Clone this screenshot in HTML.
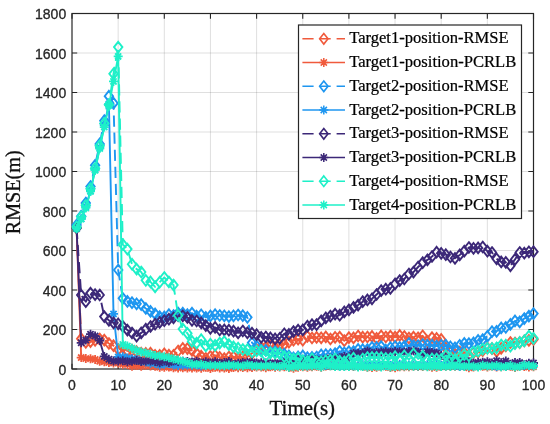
<!DOCTYPE html>
<html><head><meta charset="utf-8"><style>html,body{margin:0;padding:0;background:#fff;}svg{display:block;}</style></head>
<body><svg width="550" height="424" viewBox="0 0 550 424">
<rect width="550" height="424" fill="#fff"/>
<path d="M118.15 13.5V369.0M164.30 13.5V369.0M210.45 13.5V369.0M256.60 13.5V369.0M302.75 13.5V369.0M348.90 13.5V369.0M395.05 13.5V369.0M441.20 13.5V369.0M487.35 13.5V369.0" stroke="#262626" stroke-opacity="0.15" stroke-width="1" fill="none"/>
<path d="M72.0 329.50H533.5M72.0 290.00H533.5M72.0 250.50H533.5M72.0 211.00H533.5M72.0 171.50H533.5M72.0 132.00H533.5M72.0 92.50H533.5M72.0 53.00H533.5" stroke="#262626" stroke-opacity="0.15" stroke-width="1" fill="none"/>
<path d="M72.00 369.0v-5.2M72.00 13.5v5.2M118.15 369.0v-5.2M118.15 13.5v5.2M164.30 369.0v-5.2M164.30 13.5v5.2M210.45 369.0v-5.2M210.45 13.5v5.2M256.60 369.0v-5.2M256.60 13.5v5.2M302.75 369.0v-5.2M302.75 13.5v5.2M348.90 369.0v-5.2M348.90 13.5v5.2M395.05 369.0v-5.2M395.05 13.5v5.2M441.20 369.0v-5.2M441.20 13.5v5.2M487.35 369.0v-5.2M487.35 13.5v5.2M533.50 369.0v-5.2M533.50 13.5v5.2M72.0 369.00h5.2M533.5 369.00h-5.2M72.0 329.50h5.2M533.5 329.50h-5.2M72.0 290.00h5.2M533.5 290.00h-5.2M72.0 250.50h5.2M533.5 250.50h-5.2M72.0 211.00h5.2M533.5 211.00h-5.2M72.0 171.50h5.2M533.5 171.50h-5.2M72.0 132.00h5.2M533.5 132.00h-5.2M72.0 92.50h5.2M533.5 92.50h-5.2M72.0 53.00h5.2M533.5 53.00h-5.2M72.0 13.50h5.2M533.5 13.50h-5.2" stroke="#262626" stroke-width="1.1" fill="none"/>
<rect x="72.0" y="13.5" width="461.5" height="355.5" fill="none" stroke="#262626" stroke-width="1.2"/>
<polyline points="76.6,227.4 81.2,338.7 85.8,342.3 90.5,341.6 95.1,340.3 99.7,339.0 104.3,340.1 108.9,343.5 113.5,345.7 118.2,349.5 122.8,347.3 127.4,350.9 132.0,350.2 136.6,351.7 141.2,353.2 145.8,353.4 150.5,353.1 155.1,355.3 159.7,355.3 164.3,353.8 168.9,355.2 173.5,355.4 178.1,351.0 182.8,348.4 187.4,348.6 192.0,350.4 196.6,353.4 201.2,356.1 205.8,358.3 210.4,356.3 215.1,355.3 219.7,357.3 224.3,358.6 228.9,357.0 233.5,356.8 238.1,358.3 242.8,356.8 247.4,356.7 252.0,353.3 256.6,349.6 261.2,347.5 265.8,347.2 270.4,345.3 275.1,347.5 279.7,344.8 284.3,344.3 288.9,342.2 293.5,340.2 298.1,339.1 302.8,340.2 307.4,336.5 312.0,338.0 316.6,337.4 321.2,337.8 325.8,336.9 330.4,339.0 335.1,337.3 339.7,337.1 344.3,340.7 348.9,337.6 353.5,337.9 358.1,336.0 362.7,337.2 367.4,337.0 372.0,336.4 376.6,338.3 381.2,335.9 385.8,337.0 390.4,336.1 395.1,337.1 399.7,335.4 404.3,336.5 408.9,338.0 413.5,337.1 418.1,337.8 422.7,335.8 427.4,341.3 432.0,337.6 436.6,338.4 441.2,339.4 445.8,347.8 450.4,351.6 455.0,354.5 459.7,352.0 464.3,352.6 468.9,355.2 473.5,352.6 478.1,352.2 482.7,350.6 487.4,347.9 492.0,348.7 496.6,351.3 501.2,348.3 505.8,346.0 510.4,342.5 515.0,343.0 519.7,342.7 524.3,340.9 528.9,340.4 533.5,339.5" fill="none" stroke="#f05a3c" stroke-width="1.9" stroke-dasharray="11.2 5.9" stroke-linejoin="round"/>
<path d="M76.6 222.1L80.8 227.4L76.6 232.7L72.4 227.4ZM81.2 333.4L85.4 338.7L81.2 344.0L77.0 338.7ZM85.8 337.0L90.0 342.3L85.8 347.6L81.6 342.3ZM90.5 336.3L94.7 341.6L90.5 346.9L86.3 341.6ZM95.1 335.0L99.3 340.3L95.1 345.6L90.9 340.3ZM99.7 333.7L103.9 339.0L99.7 344.3L95.5 339.0ZM104.3 334.8L108.5 340.1L104.3 345.4L100.1 340.1ZM108.9 338.2L113.1 343.5L108.9 348.8L104.7 343.5ZM113.5 340.4L117.7 345.7L113.5 351.0L109.3 345.7ZM118.2 344.2L122.4 349.5L118.2 354.8L114.0 349.5ZM122.8 342.0L127.0 347.3L122.8 352.6L118.6 347.3ZM127.4 345.6L131.6 350.9L127.4 356.2L123.2 350.9ZM132.0 344.9L136.2 350.2L132.0 355.5L127.8 350.2ZM136.6 346.4L140.8 351.7L136.6 357.0L132.4 351.7ZM141.2 347.9L145.4 353.2L141.2 358.5L137.0 353.2ZM145.8 348.1L150.0 353.4L145.8 358.7L141.6 353.4ZM150.5 347.8L154.7 353.1L150.5 358.4L146.3 353.1ZM155.1 350.0L159.3 355.3L155.1 360.6L150.9 355.3ZM159.7 350.0L163.9 355.3L159.7 360.6L155.5 355.3ZM164.3 348.5L168.5 353.8L164.3 359.1L160.1 353.8ZM168.9 349.9L173.1 355.2L168.9 360.5L164.7 355.2ZM173.5 350.1L177.7 355.4L173.5 360.7L169.3 355.4ZM178.1 345.7L182.3 351.0L178.1 356.3L173.9 351.0ZM182.8 343.1L187.0 348.4L182.8 353.7L178.6 348.4ZM187.4 343.3L191.6 348.6L187.4 353.9L183.2 348.6ZM192.0 345.1L196.2 350.4L192.0 355.7L187.8 350.4ZM196.6 348.1L200.8 353.4L196.6 358.7L192.4 353.4ZM201.2 350.8L205.4 356.1L201.2 361.4L197.0 356.1ZM205.8 353.0L210.0 358.3L205.8 363.6L201.6 358.3ZM210.4 351.0L214.6 356.3L210.4 361.6L206.2 356.3ZM215.1 350.0L219.3 355.3L215.1 360.6L210.9 355.3ZM219.7 352.0L223.9 357.3L219.7 362.6L215.5 357.3ZM224.3 353.3L228.5 358.6L224.3 363.9L220.1 358.6ZM228.9 351.7L233.1 357.0L228.9 362.3L224.7 357.0ZM233.5 351.5L237.7 356.8L233.5 362.1L229.3 356.8ZM238.1 353.0L242.3 358.3L238.1 363.6L233.9 358.3ZM242.8 351.5L247.0 356.8L242.8 362.1L238.6 356.8ZM247.4 351.4L251.6 356.7L247.4 362.0L243.2 356.7ZM252.0 348.0L256.2 353.3L252.0 358.6L247.8 353.3ZM256.6 344.3L260.8 349.6L256.6 354.9L252.4 349.6ZM261.2 342.2L265.4 347.5L261.2 352.8L257.0 347.5ZM265.8 341.9L270.0 347.2L265.8 352.5L261.6 347.2ZM270.4 340.0L274.6 345.3L270.4 350.6L266.2 345.3ZM275.1 342.2L279.3 347.5L275.1 352.8L270.9 347.5ZM279.7 339.5L283.9 344.8L279.7 350.1L275.5 344.8ZM284.3 339.0L288.5 344.3L284.3 349.6L280.1 344.3ZM288.9 336.9L293.1 342.2L288.9 347.5L284.7 342.2ZM293.5 334.9L297.7 340.2L293.5 345.5L289.3 340.2ZM298.1 333.8L302.3 339.1L298.1 344.4L293.9 339.1ZM302.8 334.9L306.9 340.2L302.8 345.5L298.6 340.2ZM307.4 331.2L311.6 336.5L307.4 341.8L303.2 336.5ZM312.0 332.7L316.2 338.0L312.0 343.3L307.8 338.0ZM316.6 332.1L320.8 337.4L316.6 342.7L312.4 337.4ZM321.2 332.5L325.4 337.8L321.2 343.1L317.0 337.8ZM325.8 331.6L330.0 336.9L325.8 342.2L321.6 336.9ZM330.4 333.7L334.6 339.0L330.4 344.3L326.2 339.0ZM335.1 332.0L339.3 337.3L335.1 342.6L330.9 337.3ZM339.7 331.8L343.9 337.1L339.7 342.4L335.5 337.1ZM344.3 335.4L348.5 340.7L344.3 346.0L340.1 340.7ZM348.9 332.3L353.1 337.6L348.9 342.9L344.7 337.6ZM353.5 332.6L357.7 337.9L353.5 343.2L349.3 337.9ZM358.1 330.7L362.3 336.0L358.1 341.3L353.9 336.0ZM362.7 331.9L366.9 337.2L362.7 342.5L358.5 337.2ZM367.4 331.7L371.6 337.0L367.4 342.3L363.2 337.0ZM372.0 331.1L376.2 336.4L372.0 341.7L367.8 336.4ZM376.6 333.0L380.8 338.3L376.6 343.6L372.4 338.3ZM381.2 330.6L385.4 335.9L381.2 341.2L377.0 335.9ZM385.8 331.7L390.0 337.0L385.8 342.3L381.6 337.0ZM390.4 330.8L394.6 336.1L390.4 341.4L386.2 336.1ZM395.1 331.8L399.2 337.1L395.1 342.4L390.9 337.1ZM399.7 330.1L403.9 335.4L399.7 340.7L395.5 335.4ZM404.3 331.2L408.5 336.5L404.3 341.8L400.1 336.5ZM408.9 332.7L413.1 338.0L408.9 343.3L404.7 338.0ZM413.5 331.8L417.7 337.1L413.5 342.4L409.3 337.1ZM418.1 332.5L422.3 337.8L418.1 343.1L413.9 337.8ZM422.7 330.5L426.9 335.8L422.7 341.1L418.5 335.8ZM427.4 336.0L431.6 341.3L427.4 346.6L423.2 341.3ZM432.0 332.3L436.2 337.6L432.0 342.9L427.8 337.6ZM436.6 333.1L440.8 338.4L436.6 343.7L432.4 338.4ZM441.2 334.1L445.4 339.4L441.2 344.7L437.0 339.4ZM445.8 342.5L450.0 347.8L445.8 353.1L441.6 347.8ZM450.4 346.3L454.6 351.6L450.4 356.9L446.2 351.6ZM455.0 349.2L459.2 354.5L455.0 359.8L450.8 354.5ZM459.7 346.7L463.9 352.0L459.7 357.3L455.5 352.0ZM464.3 347.3L468.5 352.6L464.3 357.9L460.1 352.6ZM468.9 349.9L473.1 355.2L468.9 360.5L464.7 355.2ZM473.5 347.3L477.7 352.6L473.5 357.9L469.3 352.6ZM478.1 346.9L482.3 352.2L478.1 357.5L473.9 352.2ZM482.7 345.3L486.9 350.6L482.7 355.9L478.5 350.6ZM487.4 342.6L491.6 347.9L487.4 353.2L483.2 347.9ZM492.0 343.4L496.2 348.7L492.0 354.0L487.8 348.7ZM496.6 346.0L500.8 351.3L496.6 356.6L492.4 351.3ZM501.2 343.0L505.4 348.3L501.2 353.6L497.0 348.3ZM505.8 340.7L510.0 346.0L505.8 351.3L501.6 346.0ZM510.4 337.2L514.6 342.5L510.4 347.8L506.2 342.5ZM515.0 337.7L519.2 343.0L515.0 348.3L510.8 343.0ZM519.7 337.4L523.9 342.7L519.7 348.0L515.5 342.7ZM524.3 335.6L528.5 340.9L524.3 346.2L520.1 340.9ZM528.9 335.1L533.1 340.4L528.9 345.7L524.7 340.4ZM533.5 334.2L537.7 339.5L533.5 344.8L529.3 339.5Z" fill="none" stroke="#f05a3c" stroke-width="1.9"/>
<polyline points="76.6,228.4 81.2,357.6 85.8,358.6 90.5,358.8 95.1,359.4 99.7,361.3 104.3,361.8 108.9,362.5 113.5,363.0 118.2,363.0 122.8,364.3 127.4,364.4 132.0,366.3 136.6,365.5 141.2,366.2 145.8,365.3 150.5,366.1 155.1,366.3 159.7,367.2 164.3,367.3 168.9,367.1 173.5,367.8 178.1,368.0 182.8,367.8 187.4,367.9 192.0,368.1 196.6,367.9 201.2,368.2 205.8,367.3 210.4,368.6 215.1,367.2 219.7,368.0 224.3,367.9 228.9,368.4 233.5,367.6 238.1,367.7 242.8,367.4 247.4,367.8 252.0,367.4 256.6,367.1 261.2,367.1 265.8,367.7 270.4,366.7 275.1,367.3 279.7,366.9 284.3,366.8 288.9,367.4 293.5,368.2 298.1,367.3 302.8,366.7 307.4,367.2 312.0,366.7 316.6,366.3 321.2,367.2 325.8,366.1 330.4,365.8 335.1,366.1 339.7,366.0 344.3,366.0 348.9,366.2 353.5,366.5 358.1,366.6 362.7,366.3 367.4,367.2 372.0,367.6 376.6,367.2 381.2,366.4 385.8,366.3 390.4,367.5 395.1,367.7 399.7,366.8 404.3,366.7 408.9,366.7 413.5,366.2 418.1,366.4 422.7,366.5 427.4,366.3 432.0,367.3 436.6,367.3 441.2,366.5 445.8,366.2 450.4,366.2 455.0,366.3 459.7,366.2 464.3,366.2 468.9,367.7 473.5,367.1 478.1,366.4 482.7,366.3 487.4,366.9 492.0,365.9 496.6,366.9 501.2,366.8 505.8,366.5 510.4,366.2 515.0,367.5 519.7,366.0 524.3,366.6 528.9,367.1 533.5,366.7" fill="none" stroke="#f05a3c" stroke-width="1.9" stroke-linejoin="round"/>
<path d="M72.1 228.4H81.1M76.6 223.9V232.9M73.5 225.3L79.7 231.5M73.5 231.5L79.7 225.3M76.7 357.6H85.7M81.2 353.1V362.1M78.1 354.5L84.3 360.7M78.1 360.7L84.3 354.5M81.3 358.6H90.3M85.8 354.1V363.1M82.7 355.5L88.9 361.7M82.7 361.7L88.9 355.5M86.0 358.8H95.0M90.5 354.3V363.3M87.4 355.7L93.6 361.9M87.4 361.9L93.6 355.7M90.6 359.4H99.6M95.1 354.9V363.9M92.0 356.3L98.2 362.5M92.0 362.5L98.2 356.3M95.2 361.3H104.2M99.7 356.8V365.8M96.6 358.2L102.8 364.4M96.6 364.4L102.8 358.2M99.8 361.8H108.8M104.3 357.3V366.3M101.2 358.7L107.4 364.9M101.2 364.9L107.4 358.7M104.4 362.5H113.4M108.9 358.0V367.0M105.8 359.4L112.0 365.6M105.8 365.6L112.0 359.4M109.0 363.0H118.0M113.5 358.5V367.5M110.4 359.9L116.6 366.1M110.4 366.1L116.6 359.9M113.7 363.0H122.7M118.2 358.5V367.5M115.1 359.9L121.2 366.1M115.1 366.1L121.2 359.9M118.3 364.3H127.3M122.8 359.8V368.8M119.7 361.2L125.9 367.4M119.7 367.4L125.9 361.2M122.9 364.4H131.9M127.4 359.9V368.9M124.3 361.3L130.5 367.5M124.3 367.5L130.5 361.3M127.5 366.3H136.5M132.0 361.8V370.8M128.9 363.2L135.1 369.4M128.9 369.4L135.1 363.2M132.1 365.5H141.1M136.6 361.0V370.0M133.5 362.4L139.7 368.6M133.5 368.6L139.7 362.4M136.7 366.2H145.7M141.2 361.7V370.7M138.1 363.1L144.3 369.3M138.1 369.3L144.3 363.1M141.3 365.3H150.3M145.8 360.8V369.8M142.7 362.2L148.9 368.4M142.7 368.4L148.9 362.2M146.0 366.1H155.0M150.5 361.6V370.6M147.4 363.0L153.6 369.2M147.4 369.2L153.6 363.0M150.6 366.3H159.6M155.1 361.8V370.8M152.0 363.2L158.2 369.4M152.0 369.4L158.2 363.2M155.2 367.2H164.2M159.7 362.7V371.7M156.6 364.1L162.8 370.3M156.6 370.3L162.8 364.1M159.8 367.3H168.8M164.3 362.8V371.8M161.2 364.2L167.4 370.4M161.2 370.4L167.4 364.2M164.4 367.1H173.4M168.9 362.6V371.6M165.8 364.0L172.0 370.2M165.8 370.2L172.0 364.0M169.0 367.8H178.0M173.5 363.3V372.3M170.4 364.7L176.6 370.9M170.4 370.9L176.6 364.7M173.6 368.0H182.6M178.1 363.5V372.5M175.0 364.9L181.2 371.1M175.0 371.1L181.2 364.9M178.3 367.8H187.3M182.8 363.3V372.3M179.7 364.7L185.9 370.9M179.7 370.9L185.9 364.7M182.9 367.9H191.9M187.4 363.4V372.4M184.3 364.8L190.5 371.0M184.3 371.0L190.5 364.8M187.5 368.1H196.5M192.0 363.6V372.6M188.9 365.0L195.1 371.2M188.9 371.2L195.1 365.0M192.1 367.9H201.1M196.6 363.4V372.4M193.5 364.8L199.7 371.0M193.5 371.0L199.7 364.8M196.7 368.2H205.7M201.2 363.7V372.7M198.1 365.1L204.3 371.3M198.1 371.3L204.3 365.1M201.3 367.3H210.3M205.8 362.8V371.8M202.7 364.2L208.9 370.4M202.7 370.4L208.9 364.2M205.9 368.6H214.9M210.4 364.1V373.1M207.3 365.5L213.5 371.7M207.3 371.7L213.5 365.5M210.6 367.2H219.6M215.1 362.7V371.7M212.0 364.1L218.2 370.3M212.0 370.3L218.2 364.1M215.2 368.0H224.2M219.7 363.5V372.5M216.6 364.9L222.8 371.1M216.6 371.1L222.8 364.9M219.8 367.9H228.8M224.3 363.4V372.4M221.2 364.8L227.4 371.0M221.2 371.0L227.4 364.8M224.4 368.4H233.4M228.9 363.9V372.9M225.8 365.3L232.0 371.5M225.8 371.5L232.0 365.3M229.0 367.6H238.0M233.5 363.1V372.1M230.4 364.5L236.6 370.7M230.4 370.7L236.6 364.5M233.6 367.7H242.6M238.1 363.2V372.2M235.0 364.6L241.2 370.8M235.0 370.8L241.2 364.6M238.3 367.4H247.3M242.8 362.9V371.9M239.7 364.3L245.9 370.5M239.7 370.5L245.9 364.3M242.9 367.8H251.9M247.4 363.3V372.3M244.3 364.7L250.5 370.9M244.3 370.9L250.5 364.7M247.5 367.4H256.5M252.0 362.9V371.9M248.9 364.3L255.1 370.5M248.9 370.5L255.1 364.3M252.1 367.1H261.1M256.6 362.6V371.6M253.5 364.0L259.7 370.2M253.5 370.2L259.7 364.0M256.7 367.1H265.7M261.2 362.6V371.6M258.1 364.0L264.3 370.2M258.1 370.2L264.3 364.0M261.3 367.7H270.3M265.8 363.2V372.2M262.7 364.6L268.9 370.8M262.7 370.8L268.9 364.6M265.9 366.7H274.9M270.4 362.2V371.2M267.3 363.6L273.5 369.8M267.3 369.8L273.5 363.6M270.6 367.3H279.6M275.1 362.8V371.8M272.0 364.2L278.2 370.4M272.0 370.4L278.2 364.2M275.2 366.9H284.2M279.7 362.4V371.4M276.6 363.8L282.8 370.0M276.6 370.0L282.8 363.8M279.8 366.8H288.8M284.3 362.3V371.3M281.2 363.7L287.4 369.9M281.2 369.9L287.4 363.7M284.4 367.4H293.4M288.9 362.9V371.9M285.8 364.3L292.0 370.5M285.8 370.5L292.0 364.3M289.0 368.2H298.0M293.5 363.7V372.7M290.4 365.1L296.6 371.3M290.4 371.3L296.6 365.1M293.6 367.3H302.6M298.1 362.8V371.8M295.0 364.2L301.2 370.4M295.0 370.4L301.2 364.2M298.2 366.7H307.2M302.8 362.2V371.2M299.6 363.6L305.9 369.8M299.6 369.8L305.9 363.6M302.9 367.2H311.9M307.4 362.7V371.7M304.3 364.1L310.5 370.3M304.3 370.3L310.5 364.1M307.5 366.7H316.5M312.0 362.2V371.2M308.9 363.6L315.1 369.8M308.9 369.8L315.1 363.6M312.1 366.3H321.1M316.6 361.8V370.8M313.5 363.2L319.7 369.4M313.5 369.4L319.7 363.2M316.7 367.2H325.7M321.2 362.7V371.7M318.1 364.1L324.3 370.3M318.1 370.3L324.3 364.1M321.3 366.1H330.3M325.8 361.6V370.6M322.7 363.0L328.9 369.2M322.7 369.2L328.9 363.0M325.9 365.8H334.9M330.4 361.3V370.3M327.3 362.7L333.5 368.9M327.3 368.9L333.5 362.7M330.6 366.1H339.6M335.1 361.6V370.6M332.0 363.0L338.2 369.2M332.0 369.2L338.2 363.0M335.2 366.0H344.2M339.7 361.5V370.5M336.6 362.9L342.8 369.1M336.6 369.1L342.8 362.9M339.8 366.0H348.8M344.3 361.5V370.5M341.2 362.9L347.4 369.1M341.2 369.1L347.4 362.9M344.4 366.2H353.4M348.9 361.7V370.7M345.8 363.1L352.0 369.3M345.8 369.3L352.0 363.1M349.0 366.5H358.0M353.5 362.0V371.0M350.4 363.4L356.6 369.6M350.4 369.6L356.6 363.4M353.6 366.6H362.6M358.1 362.1V371.1M355.0 363.5L361.2 369.7M355.0 369.7L361.2 363.5M358.2 366.3H367.2M362.7 361.8V370.8M359.6 363.2L365.8 369.4M359.6 369.4L365.8 363.2M362.9 367.2H371.9M367.4 362.7V371.7M364.3 364.1L370.5 370.3M364.3 370.3L370.5 364.1M367.5 367.6H376.5M372.0 363.1V372.1M368.9 364.5L375.1 370.7M368.9 370.7L375.1 364.5M372.1 367.2H381.1M376.6 362.7V371.7M373.5 364.1L379.7 370.3M373.5 370.3L379.7 364.1M376.7 366.4H385.7M381.2 361.9V370.9M378.1 363.3L384.3 369.5M378.1 369.5L384.3 363.3M381.3 366.3H390.3M385.8 361.8V370.8M382.7 363.2L388.9 369.4M382.7 369.4L388.9 363.2M385.9 367.5H394.9M390.4 363.0V372.0M387.3 364.4L393.5 370.6M387.3 370.6L393.5 364.4M390.6 367.7H399.6M395.1 363.2V372.2M391.9 364.6L398.2 370.8M391.9 370.8L398.2 364.6M395.2 366.8H404.2M399.7 362.3V371.3M396.6 363.7L402.8 369.9M396.6 369.9L402.8 363.7M399.8 366.7H408.8M404.3 362.2V371.2M401.2 363.6L407.4 369.8M401.2 369.8L407.4 363.6M404.4 366.7H413.4M408.9 362.2V371.2M405.8 363.6L412.0 369.8M405.8 369.8L412.0 363.6M409.0 366.2H418.0M413.5 361.7V370.7M410.4 363.1L416.6 369.3M410.4 369.3L416.6 363.1M413.6 366.4H422.6M418.1 361.9V370.9M415.0 363.3L421.2 369.5M415.0 369.5L421.2 363.3M418.2 366.5H427.2M422.7 362.0V371.0M419.6 363.4L425.8 369.6M419.6 369.6L425.8 363.4M422.9 366.3H431.9M427.4 361.8V370.8M424.3 363.2L430.5 369.4M424.3 369.4L430.5 363.2M427.5 367.3H436.5M432.0 362.8V371.8M428.9 364.2L435.1 370.4M428.9 370.4L435.1 364.2M432.1 367.3H441.1M436.6 362.8V371.8M433.5 364.2L439.7 370.4M433.5 370.4L439.7 364.2M436.7 366.5H445.7M441.2 362.0V371.0M438.1 363.4L444.3 369.6M438.1 369.6L444.3 363.4M441.3 366.2H450.3M445.8 361.7V370.7M442.7 363.1L448.9 369.3M442.7 369.3L448.9 363.1M445.9 366.2H454.9M450.4 361.7V370.7M447.3 363.1L453.5 369.3M447.3 369.3L453.5 363.1M450.5 366.3H459.5M455.0 361.8V370.8M451.9 363.2L458.1 369.4M451.9 369.4L458.1 363.2M455.2 366.2H464.2M459.7 361.7V370.7M456.6 363.1L462.8 369.3M456.6 369.3L462.8 363.1M459.8 366.2H468.8M464.3 361.7V370.7M461.2 363.1L467.4 369.3M461.2 369.3L467.4 363.1M464.4 367.7H473.4M468.9 363.2V372.2M465.8 364.6L472.0 370.8M465.8 370.8L472.0 364.6M469.0 367.1H478.0M473.5 362.6V371.6M470.4 364.0L476.6 370.2M470.4 370.2L476.6 364.0M473.6 366.4H482.6M478.1 361.9V370.9M475.0 363.3L481.2 369.5M475.0 369.5L481.2 363.3M478.2 366.3H487.2M482.7 361.8V370.8M479.6 363.2L485.8 369.4M479.6 369.4L485.8 363.2M482.9 366.9H491.9M487.4 362.4V371.4M484.2 363.8L490.5 370.0M484.2 370.0L490.5 363.8M487.5 365.9H496.5M492.0 361.4V370.4M488.9 362.8L495.1 369.0M488.9 369.0L495.1 362.8M492.1 366.9H501.1M496.6 362.4V371.4M493.5 363.8L499.7 370.0M493.5 370.0L499.7 363.8M496.7 366.8H505.7M501.2 362.3V371.3M498.1 363.7L504.3 369.9M498.1 369.9L504.3 363.7M501.3 366.5H510.3M505.8 362.0V371.0M502.7 363.4L508.9 369.6M502.7 369.6L508.9 363.4M505.9 366.2H514.9M510.4 361.7V370.7M507.3 363.1L513.5 369.3M507.3 369.3L513.5 363.1M510.5 367.5H519.5M515.0 363.0V372.0M511.9 364.4L518.1 370.6M511.9 370.6L518.1 364.4M515.2 366.0H524.2M519.7 361.5V370.5M516.6 362.9L522.8 369.1M516.6 369.1L522.8 362.9M519.8 366.6H528.8M524.3 362.1V371.1M521.2 363.5L527.4 369.7M521.2 369.7L527.4 363.5M524.4 367.1H533.4M528.9 362.6V371.6M525.8 364.0L532.0 370.2M525.8 370.2L532.0 364.0M529.0 366.7H538.0M533.5 362.2V371.2M530.4 363.6L536.6 369.8M530.4 369.8L536.6 363.6" fill="none" stroke="#f05a3c" stroke-width="1.8"/>
<polyline points="76.6,225.0 81.2,216.2 85.8,203.0 90.5,186.5 95.1,165.3 99.7,143.9 104.3,120.7 108.9,96.2 113.5,103.2 118.2,270.0 122.8,298.3 127.4,301.4 132.0,302.7 136.6,303.8 141.2,304.6 145.8,308.5 150.5,311.3 155.1,313.9 159.7,316.7 164.3,316.9 168.9,314.7 173.5,315.5 178.1,313.0 182.8,313.2 187.4,314.6 192.0,313.1 196.6,316.2 201.2,314.8 205.8,317.4 210.4,315.9 215.1,314.7 219.7,315.5 224.3,315.8 228.9,316.6 233.5,315.8 238.1,315.0 242.8,315.7 247.4,317.3 252.0,342.8 256.6,346.0 261.2,350.0 265.8,350.4 270.4,352.1 275.1,351.3 279.7,353.1 284.3,354.1 288.9,355.8 293.5,357.8 298.1,356.9 302.8,355.9 307.4,357.6 312.0,357.3 316.6,357.0 321.2,354.9 325.8,354.7 330.4,354.5 335.1,353.6 339.7,351.3 344.3,352.8 348.9,351.7 353.5,351.6 358.1,349.4 362.7,349.7 367.4,349.6 372.0,347.4 376.6,347.3 381.2,346.6 385.8,350.1 390.4,347.6 395.1,346.5 399.7,347.4 404.3,346.3 408.9,343.5 413.5,345.8 418.1,345.6 422.7,344.5 427.4,345.2 432.0,345.2 436.6,346.1 441.2,345.3 445.8,345.2 450.4,346.8 455.0,347.8 459.7,345.3 464.3,343.4 468.9,343.6 473.5,342.9 478.1,340.4 482.7,339.6 487.4,336.3 492.0,331.7 496.6,331.3 501.2,327.9 505.8,327.3 510.4,324.4 515.0,320.9 519.7,321.9 524.3,318.6 528.9,316.1 533.5,313.6" fill="none" stroke="#1e96f0" stroke-width="1.9" stroke-dasharray="11.2 5.9" stroke-linejoin="round"/>
<path d="M76.6 219.7L80.8 225.0L76.6 230.3L72.4 225.0ZM81.2 210.9L85.4 216.2L81.2 221.5L77.0 216.2ZM85.8 197.7L90.0 203.0L85.8 208.3L81.6 203.0ZM90.5 181.2L94.7 186.5L90.5 191.8L86.3 186.5ZM95.1 160.0L99.3 165.3L95.1 170.6L90.9 165.3ZM99.7 138.6L103.9 143.9L99.7 149.2L95.5 143.9ZM104.3 115.4L108.5 120.7L104.3 126.0L100.1 120.7ZM108.9 90.9L113.1 96.2L108.9 101.5L104.7 96.2ZM113.5 97.9L117.7 103.2L113.5 108.5L109.3 103.2ZM118.2 264.7L122.4 270.0L118.2 275.3L114.0 270.0ZM122.8 293.0L127.0 298.3L122.8 303.6L118.6 298.3ZM127.4 296.1L131.6 301.4L127.4 306.7L123.2 301.4ZM132.0 297.4L136.2 302.7L132.0 308.0L127.8 302.7ZM136.6 298.5L140.8 303.8L136.6 309.1L132.4 303.8ZM141.2 299.3L145.4 304.6L141.2 309.9L137.0 304.6ZM145.8 303.2L150.0 308.5L145.8 313.8L141.6 308.5ZM150.5 306.0L154.7 311.3L150.5 316.6L146.3 311.3ZM155.1 308.6L159.3 313.9L155.1 319.2L150.9 313.9ZM159.7 311.4L163.9 316.7L159.7 322.0L155.5 316.7ZM164.3 311.6L168.5 316.9L164.3 322.2L160.1 316.9ZM168.9 309.4L173.1 314.7L168.9 320.0L164.7 314.7ZM173.5 310.2L177.7 315.5L173.5 320.8L169.3 315.5ZM178.1 307.7L182.3 313.0L178.1 318.3L173.9 313.0ZM182.8 307.9L187.0 313.2L182.8 318.5L178.6 313.2ZM187.4 309.3L191.6 314.6L187.4 319.9L183.2 314.6ZM192.0 307.8L196.2 313.1L192.0 318.4L187.8 313.1ZM196.6 310.9L200.8 316.2L196.6 321.5L192.4 316.2ZM201.2 309.5L205.4 314.8L201.2 320.1L197.0 314.8ZM205.8 312.1L210.0 317.4L205.8 322.7L201.6 317.4ZM210.4 310.6L214.6 315.9L210.4 321.2L206.2 315.9ZM215.1 309.4L219.3 314.7L215.1 320.0L210.9 314.7ZM219.7 310.2L223.9 315.5L219.7 320.8L215.5 315.5ZM224.3 310.5L228.5 315.8L224.3 321.1L220.1 315.8ZM228.9 311.3L233.1 316.6L228.9 321.9L224.7 316.6ZM233.5 310.5L237.7 315.8L233.5 321.1L229.3 315.8ZM238.1 309.7L242.3 315.0L238.1 320.3L233.9 315.0ZM242.8 310.4L247.0 315.7L242.8 321.0L238.6 315.7ZM247.4 312.0L251.6 317.3L247.4 322.6L243.2 317.3ZM252.0 337.5L256.2 342.8L252.0 348.1L247.8 342.8ZM256.6 340.7L260.8 346.0L256.6 351.3L252.4 346.0ZM261.2 344.7L265.4 350.0L261.2 355.3L257.0 350.0ZM265.8 345.1L270.0 350.4L265.8 355.7L261.6 350.4ZM270.4 346.8L274.6 352.1L270.4 357.4L266.2 352.1ZM275.1 346.0L279.3 351.3L275.1 356.6L270.9 351.3ZM279.7 347.8L283.9 353.1L279.7 358.4L275.5 353.1ZM284.3 348.8L288.5 354.1L284.3 359.4L280.1 354.1ZM288.9 350.5L293.1 355.8L288.9 361.1L284.7 355.8ZM293.5 352.5L297.7 357.8L293.5 363.1L289.3 357.8ZM298.1 351.6L302.3 356.9L298.1 362.2L293.9 356.9ZM302.8 350.6L306.9 355.9L302.8 361.2L298.6 355.9ZM307.4 352.3L311.6 357.6L307.4 362.9L303.2 357.6ZM312.0 352.0L316.2 357.3L312.0 362.6L307.8 357.3ZM316.6 351.7L320.8 357.0L316.6 362.3L312.4 357.0ZM321.2 349.6L325.4 354.9L321.2 360.2L317.0 354.9ZM325.8 349.4L330.0 354.7L325.8 360.0L321.6 354.7ZM330.4 349.2L334.6 354.5L330.4 359.8L326.2 354.5ZM335.1 348.3L339.3 353.6L335.1 358.9L330.9 353.6ZM339.7 346.0L343.9 351.3L339.7 356.6L335.5 351.3ZM344.3 347.5L348.5 352.8L344.3 358.1L340.1 352.8ZM348.9 346.4L353.1 351.7L348.9 357.0L344.7 351.7ZM353.5 346.3L357.7 351.6L353.5 356.9L349.3 351.6ZM358.1 344.1L362.3 349.4L358.1 354.7L353.9 349.4ZM362.7 344.4L366.9 349.7L362.7 355.0L358.5 349.7ZM367.4 344.3L371.6 349.6L367.4 354.9L363.2 349.6ZM372.0 342.1L376.2 347.4L372.0 352.7L367.8 347.4ZM376.6 342.0L380.8 347.3L376.6 352.6L372.4 347.3ZM381.2 341.3L385.4 346.6L381.2 351.9L377.0 346.6ZM385.8 344.8L390.0 350.1L385.8 355.4L381.6 350.1ZM390.4 342.3L394.6 347.6L390.4 352.9L386.2 347.6ZM395.1 341.2L399.2 346.5L395.1 351.8L390.9 346.5ZM399.7 342.1L403.9 347.4L399.7 352.7L395.5 347.4ZM404.3 341.0L408.5 346.3L404.3 351.6L400.1 346.3ZM408.9 338.2L413.1 343.5L408.9 348.8L404.7 343.5ZM413.5 340.5L417.7 345.8L413.5 351.1L409.3 345.8ZM418.1 340.3L422.3 345.6L418.1 350.9L413.9 345.6ZM422.7 339.2L426.9 344.5L422.7 349.8L418.5 344.5ZM427.4 339.9L431.6 345.2L427.4 350.5L423.2 345.2ZM432.0 339.9L436.2 345.2L432.0 350.5L427.8 345.2ZM436.6 340.8L440.8 346.1L436.6 351.4L432.4 346.1ZM441.2 340.0L445.4 345.3L441.2 350.6L437.0 345.3ZM445.8 339.9L450.0 345.2L445.8 350.5L441.6 345.2ZM450.4 341.5L454.6 346.8L450.4 352.1L446.2 346.8ZM455.0 342.5L459.2 347.8L455.0 353.1L450.8 347.8ZM459.7 340.0L463.9 345.3L459.7 350.6L455.5 345.3ZM464.3 338.1L468.5 343.4L464.3 348.7L460.1 343.4ZM468.9 338.3L473.1 343.6L468.9 348.9L464.7 343.6ZM473.5 337.6L477.7 342.9L473.5 348.2L469.3 342.9ZM478.1 335.1L482.3 340.4L478.1 345.7L473.9 340.4ZM482.7 334.3L486.9 339.6L482.7 344.9L478.5 339.6ZM487.4 331.0L491.6 336.3L487.4 341.6L483.2 336.3ZM492.0 326.4L496.2 331.7L492.0 337.0L487.8 331.7ZM496.6 326.0L500.8 331.3L496.6 336.6L492.4 331.3ZM501.2 322.6L505.4 327.9L501.2 333.2L497.0 327.9ZM505.8 322.0L510.0 327.3L505.8 332.6L501.6 327.3ZM510.4 319.1L514.6 324.4L510.4 329.7L506.2 324.4ZM515.0 315.6L519.2 320.9L515.0 326.2L510.8 320.9ZM519.7 316.6L523.9 321.9L519.7 327.2L515.5 321.9ZM524.3 313.3L528.5 318.6L524.3 323.9L520.1 318.6ZM528.9 310.8L533.1 316.1L528.9 321.4L524.7 316.1ZM533.5 308.3L537.7 313.6L533.5 318.9L529.3 313.6Z" fill="none" stroke="#1e96f0" stroke-width="1.9"/>
<polyline points="76.6,228.3 81.2,218.7 85.8,206.9 90.5,190.8 95.1,169.6 99.7,147.6 104.3,125.1 108.9,103.9 113.5,313.9 118.2,356.9 122.8,356.7 127.4,357.9 132.0,358.7 136.6,359.6 141.2,361.2 145.8,362.0 150.5,363.2 155.1,363.2 159.7,365.0 164.3,364.2 168.9,363.5 173.5,364.9 178.1,365.5 182.8,365.2 187.4,365.1 192.0,365.2 196.6,364.9 201.2,366.1 205.8,364.8 210.4,365.2 215.1,364.6 219.7,365.1 224.3,365.6 228.9,365.1 233.5,365.6 238.1,364.4 242.8,365.1 247.4,364.5 252.0,365.7 256.6,364.8 261.2,365.2 265.8,364.2 270.4,364.5 275.1,365.7 279.7,364.9 284.3,365.4 288.9,364.8 293.5,364.2 298.1,364.6 302.8,364.9 307.4,365.7 312.0,364.9 316.6,364.8 321.2,364.4 325.8,365.4 330.4,364.7 335.1,364.8 339.7,366.0 344.3,365.7 348.9,365.0 353.5,365.7 358.1,365.8 362.7,364.5 367.4,364.9 372.0,365.2 376.6,365.0 381.2,365.3 385.8,365.4 390.4,365.3 395.1,365.0 399.7,364.3 404.3,365.3 408.9,365.1 413.5,365.2 418.1,365.8 422.7,364.9 427.4,364.5 432.0,365.5 436.6,364.6 441.2,365.2 445.8,364.4 450.4,364.4 455.0,365.4 459.7,366.4 464.3,365.5 468.9,366.1 473.5,366.1 478.1,365.5 482.7,364.6 487.4,365.5 492.0,365.6 496.6,366.5 501.2,365.8 505.8,366.3 510.4,365.1 515.0,365.8 519.7,365.5 524.3,365.5 528.9,365.6 533.5,365.3" fill="none" stroke="#1e96f0" stroke-width="1.9" stroke-linejoin="round"/>
<path d="M72.1 228.3H81.1M76.6 223.8V232.8M73.5 225.2L79.7 231.4M73.5 231.4L79.7 225.2M76.7 218.7H85.7M81.2 214.2V223.2M78.1 215.6L84.3 221.8M78.1 221.8L84.3 215.6M81.3 206.9H90.3M85.8 202.4V211.4M82.7 203.8L88.9 210.0M82.7 210.0L88.9 203.8M86.0 190.8H95.0M90.5 186.3V195.3M87.4 187.7L93.6 193.9M87.4 193.9L93.6 187.7M90.6 169.6H99.6M95.1 165.1V174.1M92.0 166.5L98.2 172.7M92.0 172.7L98.2 166.5M95.2 147.6H104.2M99.7 143.1V152.1M96.6 144.5L102.8 150.7M96.6 150.7L102.8 144.5M99.8 125.1H108.8M104.3 120.6V129.6M101.2 122.0L107.4 128.2M101.2 128.2L107.4 122.0M104.4 103.9H113.4M108.9 99.4V108.4M105.8 100.8L112.0 107.0M105.8 107.0L112.0 100.8M109.0 313.9H118.0M113.5 309.4V318.4M110.4 310.8L116.6 317.0M110.4 317.0L116.6 310.8M113.7 356.9H122.7M118.2 352.4V361.4M115.1 353.8L121.2 360.0M115.1 360.0L121.2 353.8M118.3 356.7H127.3M122.8 352.2V361.2M119.7 353.6L125.9 359.8M119.7 359.8L125.9 353.6M122.9 357.9H131.9M127.4 353.4V362.4M124.3 354.8L130.5 361.0M124.3 361.0L130.5 354.8M127.5 358.7H136.5M132.0 354.2V363.2M128.9 355.6L135.1 361.8M128.9 361.8L135.1 355.6M132.1 359.6H141.1M136.6 355.1V364.1M133.5 356.5L139.7 362.7M133.5 362.7L139.7 356.5M136.7 361.2H145.7M141.2 356.7V365.7M138.1 358.1L144.3 364.3M138.1 364.3L144.3 358.1M141.3 362.0H150.3M145.8 357.5V366.5M142.7 358.9L148.9 365.1M142.7 365.1L148.9 358.9M146.0 363.2H155.0M150.5 358.7V367.7M147.4 360.1L153.6 366.3M147.4 366.3L153.6 360.1M150.6 363.2H159.6M155.1 358.7V367.7M152.0 360.1L158.2 366.3M152.0 366.3L158.2 360.1M155.2 365.0H164.2M159.7 360.5V369.5M156.6 361.9L162.8 368.1M156.6 368.1L162.8 361.9M159.8 364.2H168.8M164.3 359.7V368.7M161.2 361.1L167.4 367.3M161.2 367.3L167.4 361.1M164.4 363.5H173.4M168.9 359.0V368.0M165.8 360.4L172.0 366.6M165.8 366.6L172.0 360.4M169.0 364.9H178.0M173.5 360.4V369.4M170.4 361.8L176.6 368.0M170.4 368.0L176.6 361.8M173.6 365.5H182.6M178.1 361.0V370.0M175.0 362.4L181.2 368.6M175.0 368.6L181.2 362.4M178.3 365.2H187.3M182.8 360.7V369.7M179.7 362.1L185.9 368.3M179.7 368.3L185.9 362.1M182.9 365.1H191.9M187.4 360.6V369.6M184.3 362.0L190.5 368.2M184.3 368.2L190.5 362.0M187.5 365.2H196.5M192.0 360.7V369.7M188.9 362.1L195.1 368.3M188.9 368.3L195.1 362.1M192.1 364.9H201.1M196.6 360.4V369.4M193.5 361.8L199.7 368.0M193.5 368.0L199.7 361.8M196.7 366.1H205.7M201.2 361.6V370.6M198.1 363.0L204.3 369.2M198.1 369.2L204.3 363.0M201.3 364.8H210.3M205.8 360.3V369.3M202.7 361.7L208.9 367.9M202.7 367.9L208.9 361.7M205.9 365.2H214.9M210.4 360.7V369.7M207.3 362.1L213.5 368.3M207.3 368.3L213.5 362.1M210.6 364.6H219.6M215.1 360.1V369.1M212.0 361.5L218.2 367.7M212.0 367.7L218.2 361.5M215.2 365.1H224.2M219.7 360.6V369.6M216.6 362.0L222.8 368.2M216.6 368.2L222.8 362.0M219.8 365.6H228.8M224.3 361.1V370.1M221.2 362.5L227.4 368.7M221.2 368.7L227.4 362.5M224.4 365.1H233.4M228.9 360.6V369.6M225.8 362.0L232.0 368.2M225.8 368.2L232.0 362.0M229.0 365.6H238.0M233.5 361.1V370.1M230.4 362.5L236.6 368.7M230.4 368.7L236.6 362.5M233.6 364.4H242.6M238.1 359.9V368.9M235.0 361.3L241.2 367.5M235.0 367.5L241.2 361.3M238.3 365.1H247.3M242.8 360.6V369.6M239.7 362.0L245.9 368.2M239.7 368.2L245.9 362.0M242.9 364.5H251.9M247.4 360.0V369.0M244.3 361.4L250.5 367.6M244.3 367.6L250.5 361.4M247.5 365.7H256.5M252.0 361.2V370.2M248.9 362.6L255.1 368.8M248.9 368.8L255.1 362.6M252.1 364.8H261.1M256.6 360.3V369.3M253.5 361.7L259.7 367.9M253.5 367.9L259.7 361.7M256.7 365.2H265.7M261.2 360.7V369.7M258.1 362.1L264.3 368.3M258.1 368.3L264.3 362.1M261.3 364.2H270.3M265.8 359.7V368.7M262.7 361.1L268.9 367.3M262.7 367.3L268.9 361.1M265.9 364.5H274.9M270.4 360.0V369.0M267.3 361.4L273.5 367.6M267.3 367.6L273.5 361.4M270.6 365.7H279.6M275.1 361.2V370.2M272.0 362.6L278.2 368.8M272.0 368.8L278.2 362.6M275.2 364.9H284.2M279.7 360.4V369.4M276.6 361.8L282.8 368.0M276.6 368.0L282.8 361.8M279.8 365.4H288.8M284.3 360.9V369.9M281.2 362.3L287.4 368.5M281.2 368.5L287.4 362.3M284.4 364.8H293.4M288.9 360.3V369.3M285.8 361.7L292.0 367.9M285.8 367.9L292.0 361.7M289.0 364.2H298.0M293.5 359.7V368.7M290.4 361.1L296.6 367.3M290.4 367.3L296.6 361.1M293.6 364.6H302.6M298.1 360.1V369.1M295.0 361.5L301.2 367.7M295.0 367.7L301.2 361.5M298.2 364.9H307.2M302.8 360.4V369.4M299.6 361.8L305.9 368.0M299.6 368.0L305.9 361.8M302.9 365.7H311.9M307.4 361.2V370.2M304.3 362.6L310.5 368.8M304.3 368.8L310.5 362.6M307.5 364.9H316.5M312.0 360.4V369.4M308.9 361.8L315.1 368.0M308.9 368.0L315.1 361.8M312.1 364.8H321.1M316.6 360.3V369.3M313.5 361.7L319.7 367.9M313.5 367.9L319.7 361.7M316.7 364.4H325.7M321.2 359.9V368.9M318.1 361.3L324.3 367.5M318.1 367.5L324.3 361.3M321.3 365.4H330.3M325.8 360.9V369.9M322.7 362.3L328.9 368.5M322.7 368.5L328.9 362.3M325.9 364.7H334.9M330.4 360.2V369.2M327.3 361.6L333.5 367.8M327.3 367.8L333.5 361.6M330.6 364.8H339.6M335.1 360.3V369.3M332.0 361.7L338.2 367.9M332.0 367.9L338.2 361.7M335.2 366.0H344.2M339.7 361.5V370.5M336.6 362.9L342.8 369.1M336.6 369.1L342.8 362.9M339.8 365.7H348.8M344.3 361.2V370.2M341.2 362.6L347.4 368.8M341.2 368.8L347.4 362.6M344.4 365.0H353.4M348.9 360.5V369.5M345.8 361.9L352.0 368.1M345.8 368.1L352.0 361.9M349.0 365.7H358.0M353.5 361.2V370.2M350.4 362.6L356.6 368.8M350.4 368.8L356.6 362.6M353.6 365.8H362.6M358.1 361.3V370.3M355.0 362.7L361.2 368.9M355.0 368.9L361.2 362.7M358.2 364.5H367.2M362.7 360.0V369.0M359.6 361.4L365.8 367.6M359.6 367.6L365.8 361.4M362.9 364.9H371.9M367.4 360.4V369.4M364.3 361.8L370.5 368.0M364.3 368.0L370.5 361.8M367.5 365.2H376.5M372.0 360.7V369.7M368.9 362.1L375.1 368.3M368.9 368.3L375.1 362.1M372.1 365.0H381.1M376.6 360.5V369.5M373.5 361.9L379.7 368.1M373.5 368.1L379.7 361.9M376.7 365.3H385.7M381.2 360.8V369.8M378.1 362.2L384.3 368.4M378.1 368.4L384.3 362.2M381.3 365.4H390.3M385.8 360.9V369.9M382.7 362.3L388.9 368.5M382.7 368.5L388.9 362.3M385.9 365.3H394.9M390.4 360.8V369.8M387.3 362.2L393.5 368.4M387.3 368.4L393.5 362.2M390.6 365.0H399.6M395.1 360.5V369.5M391.9 361.9L398.2 368.1M391.9 368.1L398.2 361.9M395.2 364.3H404.2M399.7 359.8V368.8M396.6 361.2L402.8 367.4M396.6 367.4L402.8 361.2M399.8 365.3H408.8M404.3 360.8V369.8M401.2 362.2L407.4 368.4M401.2 368.4L407.4 362.2M404.4 365.1H413.4M408.9 360.6V369.6M405.8 362.0L412.0 368.2M405.8 368.2L412.0 362.0M409.0 365.2H418.0M413.5 360.7V369.7M410.4 362.1L416.6 368.3M410.4 368.3L416.6 362.1M413.6 365.8H422.6M418.1 361.3V370.3M415.0 362.7L421.2 368.9M415.0 368.9L421.2 362.7M418.2 364.9H427.2M422.7 360.4V369.4M419.6 361.8L425.8 368.0M419.6 368.0L425.8 361.8M422.9 364.5H431.9M427.4 360.0V369.0M424.3 361.4L430.5 367.6M424.3 367.6L430.5 361.4M427.5 365.5H436.5M432.0 361.0V370.0M428.9 362.4L435.1 368.6M428.9 368.6L435.1 362.4M432.1 364.6H441.1M436.6 360.1V369.1M433.5 361.5L439.7 367.7M433.5 367.7L439.7 361.5M436.7 365.2H445.7M441.2 360.7V369.7M438.1 362.1L444.3 368.3M438.1 368.3L444.3 362.1M441.3 364.4H450.3M445.8 359.9V368.9M442.7 361.3L448.9 367.5M442.7 367.5L448.9 361.3M445.9 364.4H454.9M450.4 359.9V368.9M447.3 361.3L453.5 367.5M447.3 367.5L453.5 361.3M450.5 365.4H459.5M455.0 360.9V369.9M451.9 362.3L458.1 368.5M451.9 368.5L458.1 362.3M455.2 366.4H464.2M459.7 361.9V370.9M456.6 363.3L462.8 369.5M456.6 369.5L462.8 363.3M459.8 365.5H468.8M464.3 361.0V370.0M461.2 362.4L467.4 368.6M461.2 368.6L467.4 362.4M464.4 366.1H473.4M468.9 361.6V370.6M465.8 363.0L472.0 369.2M465.8 369.2L472.0 363.0M469.0 366.1H478.0M473.5 361.6V370.6M470.4 363.0L476.6 369.2M470.4 369.2L476.6 363.0M473.6 365.5H482.6M478.1 361.0V370.0M475.0 362.4L481.2 368.6M475.0 368.6L481.2 362.4M478.2 364.6H487.2M482.7 360.1V369.1M479.6 361.5L485.8 367.7M479.6 367.7L485.8 361.5M482.9 365.5H491.9M487.4 361.0V370.0M484.2 362.4L490.5 368.6M484.2 368.6L490.5 362.4M487.5 365.6H496.5M492.0 361.1V370.1M488.9 362.5L495.1 368.7M488.9 368.7L495.1 362.5M492.1 366.5H501.1M496.6 362.0V371.0M493.5 363.4L499.7 369.6M493.5 369.6L499.7 363.4M496.7 365.8H505.7M501.2 361.3V370.3M498.1 362.7L504.3 368.9M498.1 368.9L504.3 362.7M501.3 366.3H510.3M505.8 361.8V370.8M502.7 363.2L508.9 369.4M502.7 369.4L508.9 363.2M505.9 365.1H514.9M510.4 360.6V369.6M507.3 362.0L513.5 368.2M507.3 368.2L513.5 362.0M510.5 365.8H519.5M515.0 361.3V370.3M511.9 362.7L518.1 368.9M511.9 368.9L518.1 362.7M515.2 365.5H524.2M519.7 361.0V370.0M516.6 362.4L522.8 368.6M516.6 368.6L522.8 362.4M519.8 365.5H528.8M524.3 361.0V370.0M521.2 362.4L527.4 368.6M521.2 368.6L527.4 362.4M524.4 365.6H533.4M528.9 361.1V370.1M525.8 362.5L532.0 368.7M525.8 368.7L532.0 362.5M529.0 365.3H538.0M533.5 360.8V369.8M530.4 362.2L536.6 368.4M530.4 368.4L536.6 362.2" fill="none" stroke="#1e96f0" stroke-width="1.8"/>
<polyline points="76.6,227.9 81.2,295.1 85.8,301.7 90.5,293.1 95.1,294.6 99.7,295.0 104.3,316.6 108.9,320.3 113.5,322.8 118.2,323.8 122.8,326.3 127.4,330.1 132.0,333.0 136.6,336.1 141.2,332.9 145.8,329.2 150.5,326.5 155.1,324.2 159.7,322.4 164.3,320.7 168.9,319.2 173.5,317.8 178.1,315.6 182.8,315.8 187.4,317.5 192.0,320.3 196.6,321.0 201.2,322.9 205.8,325.6 210.4,328.3 215.1,327.4 219.7,330.0 224.3,329.9 228.9,330.2 233.5,331.2 238.1,332.9 242.8,331.0 247.4,332.8 252.0,333.2 256.6,334.7 261.2,337.3 265.8,337.0 270.4,337.9 275.1,338.9 279.7,338.3 284.3,333.8 288.9,334.3 293.5,331.6 298.1,330.1 302.8,329.9 307.4,326.2 312.0,324.7 316.6,324.6 321.2,320.8 325.8,317.9 330.4,316.1 335.1,314.1 339.7,315.2 344.3,311.9 348.9,309.9 353.5,307.4 358.1,305.1 362.7,301.7 367.4,299.9 372.0,298.8 376.6,294.5 381.2,290.6 385.8,289.2 390.4,288.4 395.1,283.9 399.7,280.6 404.3,279.0 408.9,274.0 413.5,272.1 418.1,267.0 422.7,262.7 427.4,259.9 432.0,256.5 436.6,252.2 441.2,253.3 445.8,254.7 450.4,257.0 455.0,258.3 459.7,254.9 464.3,251.2 468.9,247.5 473.5,248.3 478.1,247.9 482.7,247.0 487.4,251.2 492.0,252.5 496.6,258.8 501.2,261.9 505.8,262.4 510.4,265.8 515.0,259.4 519.7,252.5 524.3,253.1 528.9,251.8 533.5,251.7" fill="none" stroke="#3c2878" stroke-width="1.9" stroke-dasharray="11.2 5.9" stroke-linejoin="round"/>
<path d="M76.6 222.6L80.8 227.9L76.6 233.2L72.4 227.9ZM81.2 289.8L85.4 295.1L81.2 300.4L77.0 295.1ZM85.8 296.4L90.0 301.7L85.8 307.0L81.6 301.7ZM90.5 287.8L94.7 293.1L90.5 298.4L86.3 293.1ZM95.1 289.3L99.3 294.6L95.1 299.9L90.9 294.6ZM99.7 289.7L103.9 295.0L99.7 300.3L95.5 295.0ZM104.3 311.3L108.5 316.6L104.3 321.9L100.1 316.6ZM108.9 315.0L113.1 320.3L108.9 325.6L104.7 320.3ZM113.5 317.5L117.7 322.8L113.5 328.1L109.3 322.8ZM118.2 318.5L122.4 323.8L118.2 329.1L114.0 323.8ZM122.8 321.0L127.0 326.3L122.8 331.6L118.6 326.3ZM127.4 324.8L131.6 330.1L127.4 335.4L123.2 330.1ZM132.0 327.7L136.2 333.0L132.0 338.3L127.8 333.0ZM136.6 330.8L140.8 336.1L136.6 341.4L132.4 336.1ZM141.2 327.6L145.4 332.9L141.2 338.2L137.0 332.9ZM145.8 323.9L150.0 329.2L145.8 334.5L141.6 329.2ZM150.5 321.2L154.7 326.5L150.5 331.8L146.3 326.5ZM155.1 318.9L159.3 324.2L155.1 329.5L150.9 324.2ZM159.7 317.1L163.9 322.4L159.7 327.7L155.5 322.4ZM164.3 315.4L168.5 320.7L164.3 326.0L160.1 320.7ZM168.9 313.9L173.1 319.2L168.9 324.5L164.7 319.2ZM173.5 312.5L177.7 317.8L173.5 323.1L169.3 317.8ZM178.1 310.3L182.3 315.6L178.1 320.9L173.9 315.6ZM182.8 310.5L187.0 315.8L182.8 321.1L178.6 315.8ZM187.4 312.2L191.6 317.5L187.4 322.8L183.2 317.5ZM192.0 315.0L196.2 320.3L192.0 325.6L187.8 320.3ZM196.6 315.7L200.8 321.0L196.6 326.3L192.4 321.0ZM201.2 317.6L205.4 322.9L201.2 328.2L197.0 322.9ZM205.8 320.3L210.0 325.6L205.8 330.9L201.6 325.6ZM210.4 323.0L214.6 328.3L210.4 333.6L206.2 328.3ZM215.1 322.1L219.3 327.4L215.1 332.7L210.9 327.4ZM219.7 324.7L223.9 330.0L219.7 335.3L215.5 330.0ZM224.3 324.6L228.5 329.9L224.3 335.2L220.1 329.9ZM228.9 324.9L233.1 330.2L228.9 335.5L224.7 330.2ZM233.5 325.9L237.7 331.2L233.5 336.5L229.3 331.2ZM238.1 327.6L242.3 332.9L238.1 338.2L233.9 332.9ZM242.8 325.7L247.0 331.0L242.8 336.3L238.6 331.0ZM247.4 327.5L251.6 332.8L247.4 338.1L243.2 332.8ZM252.0 327.9L256.2 333.2L252.0 338.5L247.8 333.2ZM256.6 329.4L260.8 334.7L256.6 340.0L252.4 334.7ZM261.2 332.0L265.4 337.3L261.2 342.6L257.0 337.3ZM265.8 331.7L270.0 337.0L265.8 342.3L261.6 337.0ZM270.4 332.6L274.6 337.9L270.4 343.2L266.2 337.9ZM275.1 333.6L279.3 338.9L275.1 344.2L270.9 338.9ZM279.7 333.0L283.9 338.3L279.7 343.6L275.5 338.3ZM284.3 328.5L288.5 333.8L284.3 339.1L280.1 333.8ZM288.9 329.0L293.1 334.3L288.9 339.6L284.7 334.3ZM293.5 326.3L297.7 331.6L293.5 336.9L289.3 331.6ZM298.1 324.8L302.3 330.1L298.1 335.4L293.9 330.1ZM302.8 324.6L306.9 329.9L302.8 335.2L298.6 329.9ZM307.4 320.9L311.6 326.2L307.4 331.5L303.2 326.2ZM312.0 319.4L316.2 324.7L312.0 330.0L307.8 324.7ZM316.6 319.3L320.8 324.6L316.6 329.9L312.4 324.6ZM321.2 315.5L325.4 320.8L321.2 326.1L317.0 320.8ZM325.8 312.6L330.0 317.9L325.8 323.2L321.6 317.9ZM330.4 310.8L334.6 316.1L330.4 321.4L326.2 316.1ZM335.1 308.8L339.3 314.1L335.1 319.4L330.9 314.1ZM339.7 309.9L343.9 315.2L339.7 320.5L335.5 315.2ZM344.3 306.6L348.5 311.9L344.3 317.2L340.1 311.9ZM348.9 304.6L353.1 309.9L348.9 315.2L344.7 309.9ZM353.5 302.1L357.7 307.4L353.5 312.7L349.3 307.4ZM358.1 299.8L362.3 305.1L358.1 310.4L353.9 305.1ZM362.7 296.4L366.9 301.7L362.7 307.0L358.5 301.7ZM367.4 294.6L371.6 299.9L367.4 305.2L363.2 299.9ZM372.0 293.5L376.2 298.8L372.0 304.1L367.8 298.8ZM376.6 289.2L380.8 294.5L376.6 299.8L372.4 294.5ZM381.2 285.3L385.4 290.6L381.2 295.9L377.0 290.6ZM385.8 283.9L390.0 289.2L385.8 294.5L381.6 289.2ZM390.4 283.1L394.6 288.4L390.4 293.7L386.2 288.4ZM395.1 278.6L399.2 283.9L395.1 289.2L390.9 283.9ZM399.7 275.3L403.9 280.6L399.7 285.9L395.5 280.6ZM404.3 273.7L408.5 279.0L404.3 284.3L400.1 279.0ZM408.9 268.7L413.1 274.0L408.9 279.3L404.7 274.0ZM413.5 266.8L417.7 272.1L413.5 277.4L409.3 272.1ZM418.1 261.7L422.3 267.0L418.1 272.3L413.9 267.0ZM422.7 257.4L426.9 262.7L422.7 268.0L418.5 262.7ZM427.4 254.6L431.6 259.9L427.4 265.2L423.2 259.9ZM432.0 251.2L436.2 256.5L432.0 261.8L427.8 256.5ZM436.6 246.9L440.8 252.2L436.6 257.5L432.4 252.2ZM441.2 248.0L445.4 253.3L441.2 258.6L437.0 253.3ZM445.8 249.4L450.0 254.7L445.8 260.0L441.6 254.7ZM450.4 251.7L454.6 257.0L450.4 262.3L446.2 257.0ZM455.0 253.0L459.2 258.3L455.0 263.6L450.8 258.3ZM459.7 249.6L463.9 254.9L459.7 260.2L455.5 254.9ZM464.3 245.9L468.5 251.2L464.3 256.5L460.1 251.2ZM468.9 242.2L473.1 247.5L468.9 252.8L464.7 247.5ZM473.5 243.0L477.7 248.3L473.5 253.6L469.3 248.3ZM478.1 242.6L482.3 247.9L478.1 253.2L473.9 247.9ZM482.7 241.7L486.9 247.0L482.7 252.3L478.5 247.0ZM487.4 245.9L491.6 251.2L487.4 256.5L483.2 251.2ZM492.0 247.2L496.2 252.5L492.0 257.8L487.8 252.5ZM496.6 253.5L500.8 258.8L496.6 264.1L492.4 258.8ZM501.2 256.6L505.4 261.9L501.2 267.2L497.0 261.9ZM505.8 257.1L510.0 262.4L505.8 267.7L501.6 262.4ZM510.4 260.5L514.6 265.8L510.4 271.1L506.2 265.8ZM515.0 254.1L519.2 259.4L515.0 264.7L510.8 259.4ZM519.7 247.2L523.9 252.5L519.7 257.8L515.5 252.5ZM524.3 247.8L528.5 253.1L524.3 258.4L520.1 253.1ZM528.9 246.5L533.1 251.8L528.9 257.1L524.7 251.8ZM533.5 246.4L537.7 251.7L533.5 257.0L529.3 251.7Z" fill="none" stroke="#3c2878" stroke-width="1.9"/>
<polyline points="76.6,228.5 81.2,342.8 85.8,340.1 90.5,334.2 95.1,336.0 99.7,340.5 104.3,356.4 108.9,359.2 113.5,361.0 118.2,360.9 122.8,360.8 127.4,361.7 132.0,361.3 136.6,360.5 141.2,361.4 145.8,361.0 150.5,361.1 155.1,361.4 159.7,362.7 164.3,360.9 168.9,362.4 173.5,361.1 178.1,361.4 182.8,361.3 187.4,361.4 192.0,362.0 196.6,361.3 201.2,363.2 205.8,361.8 210.4,363.1 215.1,361.8 219.7,363.2 224.3,362.5 228.9,361.6 233.5,364.6 238.1,363.2 242.8,362.5 247.4,362.3 252.0,362.0 256.6,362.9 261.2,362.7 265.8,363.0 270.4,362.9 275.1,363.0 279.7,362.8 284.3,362.4 288.9,361.5 293.5,361.1 298.1,359.6 302.8,359.6 307.4,359.4 312.0,358.6 316.6,359.6 321.2,360.3 325.8,359.0 330.4,357.9 335.1,358.1 339.7,357.8 344.3,356.6 348.9,357.0 353.5,353.2 358.1,353.2 362.7,353.2 367.4,351.1 372.0,353.3 376.6,352.5 381.2,352.0 385.8,351.8 390.4,352.0 395.1,351.4 399.7,351.8 404.3,352.1 408.9,351.4 413.5,350.8 418.1,352.0 422.7,354.3 427.4,351.7 432.0,352.4 436.6,353.1 441.2,355.4 445.8,356.9 450.4,358.1 455.0,360.4 459.7,360.4 464.3,360.5 468.9,361.7 473.5,362.9 478.1,362.4 482.7,362.2 487.4,361.8 492.0,363.0 496.6,360.8 501.2,362.8 505.8,361.1 510.4,364.3 515.0,362.4 519.7,362.6 524.3,364.7 528.9,363.2 533.5,363.0" fill="none" stroke="#3c2878" stroke-width="1.9" stroke-linejoin="round"/>
<path d="M72.1 228.5H81.1M76.6 224.0V233.0M73.5 225.4L79.7 231.6M73.5 231.6L79.7 225.4M76.7 342.8H85.7M81.2 338.3V347.3M78.1 339.7L84.3 345.9M78.1 345.9L84.3 339.7M81.3 340.1H90.3M85.8 335.6V344.6M82.7 337.0L88.9 343.2M82.7 343.2L88.9 337.0M86.0 334.2H95.0M90.5 329.7V338.7M87.4 331.1L93.6 337.3M87.4 337.3L93.6 331.1M90.6 336.0H99.6M95.1 331.5V340.5M92.0 332.9L98.2 339.1M92.0 339.1L98.2 332.9M95.2 340.5H104.2M99.7 336.0V345.0M96.6 337.4L102.8 343.6M96.6 343.6L102.8 337.4M99.8 356.4H108.8M104.3 351.9V360.9M101.2 353.3L107.4 359.5M101.2 359.5L107.4 353.3M104.4 359.2H113.4M108.9 354.7V363.7M105.8 356.1L112.0 362.3M105.8 362.3L112.0 356.1M109.0 361.0H118.0M113.5 356.5V365.5M110.4 357.9L116.6 364.1M110.4 364.1L116.6 357.9M113.7 360.9H122.7M118.2 356.4V365.4M115.1 357.8L121.2 364.0M115.1 364.0L121.2 357.8M118.3 360.8H127.3M122.8 356.3V365.3M119.7 357.7L125.9 363.9M119.7 363.9L125.9 357.7M122.9 361.7H131.9M127.4 357.2V366.2M124.3 358.6L130.5 364.8M124.3 364.8L130.5 358.6M127.5 361.3H136.5M132.0 356.8V365.8M128.9 358.2L135.1 364.4M128.9 364.4L135.1 358.2M132.1 360.5H141.1M136.6 356.0V365.0M133.5 357.4L139.7 363.6M133.5 363.6L139.7 357.4M136.7 361.4H145.7M141.2 356.9V365.9M138.1 358.3L144.3 364.5M138.1 364.5L144.3 358.3M141.3 361.0H150.3M145.8 356.5V365.5M142.7 357.9L148.9 364.1M142.7 364.1L148.9 357.9M146.0 361.1H155.0M150.5 356.6V365.6M147.4 358.0L153.6 364.2M147.4 364.2L153.6 358.0M150.6 361.4H159.6M155.1 356.9V365.9M152.0 358.3L158.2 364.5M152.0 364.5L158.2 358.3M155.2 362.7H164.2M159.7 358.2V367.2M156.6 359.6L162.8 365.8M156.6 365.8L162.8 359.6M159.8 360.9H168.8M164.3 356.4V365.4M161.2 357.8L167.4 364.0M161.2 364.0L167.4 357.8M164.4 362.4H173.4M168.9 357.9V366.9M165.8 359.3L172.0 365.5M165.8 365.5L172.0 359.3M169.0 361.1H178.0M173.5 356.6V365.6M170.4 358.0L176.6 364.2M170.4 364.2L176.6 358.0M173.6 361.4H182.6M178.1 356.9V365.9M175.0 358.3L181.2 364.5M175.0 364.5L181.2 358.3M178.3 361.3H187.3M182.8 356.8V365.8M179.7 358.2L185.9 364.4M179.7 364.4L185.9 358.2M182.9 361.4H191.9M187.4 356.9V365.9M184.3 358.3L190.5 364.5M184.3 364.5L190.5 358.3M187.5 362.0H196.5M192.0 357.5V366.5M188.9 358.9L195.1 365.1M188.9 365.1L195.1 358.9M192.1 361.3H201.1M196.6 356.8V365.8M193.5 358.2L199.7 364.4M193.5 364.4L199.7 358.2M196.7 363.2H205.7M201.2 358.7V367.7M198.1 360.1L204.3 366.3M198.1 366.3L204.3 360.1M201.3 361.8H210.3M205.8 357.3V366.3M202.7 358.7L208.9 364.9M202.7 364.9L208.9 358.7M205.9 363.1H214.9M210.4 358.6V367.6M207.3 360.0L213.5 366.2M207.3 366.2L213.5 360.0M210.6 361.8H219.6M215.1 357.3V366.3M212.0 358.7L218.2 364.9M212.0 364.9L218.2 358.7M215.2 363.2H224.2M219.7 358.7V367.7M216.6 360.1L222.8 366.3M216.6 366.3L222.8 360.1M219.8 362.5H228.8M224.3 358.0V367.0M221.2 359.4L227.4 365.6M221.2 365.6L227.4 359.4M224.4 361.6H233.4M228.9 357.1V366.1M225.8 358.5L232.0 364.7M225.8 364.7L232.0 358.5M229.0 364.6H238.0M233.5 360.1V369.1M230.4 361.5L236.6 367.7M230.4 367.7L236.6 361.5M233.6 363.2H242.6M238.1 358.7V367.7M235.0 360.1L241.2 366.3M235.0 366.3L241.2 360.1M238.3 362.5H247.3M242.8 358.0V367.0M239.7 359.4L245.9 365.6M239.7 365.6L245.9 359.4M242.9 362.3H251.9M247.4 357.8V366.8M244.3 359.2L250.5 365.4M244.3 365.4L250.5 359.2M247.5 362.0H256.5M252.0 357.5V366.5M248.9 358.9L255.1 365.1M248.9 365.1L255.1 358.9M252.1 362.9H261.1M256.6 358.4V367.4M253.5 359.8L259.7 366.0M253.5 366.0L259.7 359.8M256.7 362.7H265.7M261.2 358.2V367.2M258.1 359.6L264.3 365.8M258.1 365.8L264.3 359.6M261.3 363.0H270.3M265.8 358.5V367.5M262.7 359.9L268.9 366.1M262.7 366.1L268.9 359.9M265.9 362.9H274.9M270.4 358.4V367.4M267.3 359.8L273.5 366.0M267.3 366.0L273.5 359.8M270.6 363.0H279.6M275.1 358.5V367.5M272.0 359.9L278.2 366.1M272.0 366.1L278.2 359.9M275.2 362.8H284.2M279.7 358.3V367.3M276.6 359.7L282.8 365.9M276.6 365.9L282.8 359.7M279.8 362.4H288.8M284.3 357.9V366.9M281.2 359.3L287.4 365.5M281.2 365.5L287.4 359.3M284.4 361.5H293.4M288.9 357.0V366.0M285.8 358.4L292.0 364.6M285.8 364.6L292.0 358.4M289.0 361.1H298.0M293.5 356.6V365.6M290.4 358.0L296.6 364.2M290.4 364.2L296.6 358.0M293.6 359.6H302.6M298.1 355.1V364.1M295.0 356.5L301.2 362.7M295.0 362.7L301.2 356.5M298.2 359.6H307.2M302.8 355.1V364.1M299.6 356.5L305.9 362.7M299.6 362.7L305.9 356.5M302.9 359.4H311.9M307.4 354.9V363.9M304.3 356.3L310.5 362.5M304.3 362.5L310.5 356.3M307.5 358.6H316.5M312.0 354.1V363.1M308.9 355.5L315.1 361.7M308.9 361.7L315.1 355.5M312.1 359.6H321.1M316.6 355.1V364.1M313.5 356.5L319.7 362.7M313.5 362.7L319.7 356.5M316.7 360.3H325.7M321.2 355.8V364.8M318.1 357.2L324.3 363.4M318.1 363.4L324.3 357.2M321.3 359.0H330.3M325.8 354.5V363.5M322.7 355.9L328.9 362.1M322.7 362.1L328.9 355.9M325.9 357.9H334.9M330.4 353.4V362.4M327.3 354.8L333.5 361.0M327.3 361.0L333.5 354.8M330.6 358.1H339.6M335.1 353.6V362.6M332.0 355.0L338.2 361.2M332.0 361.2L338.2 355.0M335.2 357.8H344.2M339.7 353.3V362.3M336.6 354.7L342.8 360.9M336.6 360.9L342.8 354.7M339.8 356.6H348.8M344.3 352.1V361.1M341.2 353.5L347.4 359.7M341.2 359.7L347.4 353.5M344.4 357.0H353.4M348.9 352.5V361.5M345.8 353.9L352.0 360.1M345.8 360.1L352.0 353.9M349.0 353.2H358.0M353.5 348.7V357.7M350.4 350.1L356.6 356.3M350.4 356.3L356.6 350.1M353.6 353.2H362.6M358.1 348.7V357.7M355.0 350.1L361.2 356.3M355.0 356.3L361.2 350.1M358.2 353.2H367.2M362.7 348.7V357.7M359.6 350.1L365.8 356.3M359.6 356.3L365.8 350.1M362.9 351.1H371.9M367.4 346.6V355.6M364.3 348.0L370.5 354.2M364.3 354.2L370.5 348.0M367.5 353.3H376.5M372.0 348.8V357.8M368.9 350.2L375.1 356.4M368.9 356.4L375.1 350.2M372.1 352.5H381.1M376.6 348.0V357.0M373.5 349.4L379.7 355.6M373.5 355.6L379.7 349.4M376.7 352.0H385.7M381.2 347.5V356.5M378.1 348.9L384.3 355.1M378.1 355.1L384.3 348.9M381.3 351.8H390.3M385.8 347.3V356.3M382.7 348.7L388.9 354.9M382.7 354.9L388.9 348.7M385.9 352.0H394.9M390.4 347.5V356.5M387.3 348.9L393.5 355.1M387.3 355.1L393.5 348.9M390.6 351.4H399.6M395.1 346.9V355.9M391.9 348.3L398.2 354.5M391.9 354.5L398.2 348.3M395.2 351.8H404.2M399.7 347.3V356.3M396.6 348.7L402.8 354.9M396.6 354.9L402.8 348.7M399.8 352.1H408.8M404.3 347.6V356.6M401.2 349.0L407.4 355.2M401.2 355.2L407.4 349.0M404.4 351.4H413.4M408.9 346.9V355.9M405.8 348.3L412.0 354.5M405.8 354.5L412.0 348.3M409.0 350.8H418.0M413.5 346.3V355.3M410.4 347.7L416.6 353.9M410.4 353.9L416.6 347.7M413.6 352.0H422.6M418.1 347.5V356.5M415.0 348.9L421.2 355.1M415.0 355.1L421.2 348.9M418.2 354.3H427.2M422.7 349.8V358.8M419.6 351.2L425.8 357.4M419.6 357.4L425.8 351.2M422.9 351.7H431.9M427.4 347.2V356.2M424.3 348.6L430.5 354.8M424.3 354.8L430.5 348.6M427.5 352.4H436.5M432.0 347.9V356.9M428.9 349.3L435.1 355.5M428.9 355.5L435.1 349.3M432.1 353.1H441.1M436.6 348.6V357.6M433.5 350.0L439.7 356.2M433.5 356.2L439.7 350.0M436.7 355.4H445.7M441.2 350.9V359.9M438.1 352.3L444.3 358.5M438.1 358.5L444.3 352.3M441.3 356.9H450.3M445.8 352.4V361.4M442.7 353.8L448.9 360.0M442.7 360.0L448.9 353.8M445.9 358.1H454.9M450.4 353.6V362.6M447.3 355.0L453.5 361.2M447.3 361.2L453.5 355.0M450.5 360.4H459.5M455.0 355.9V364.9M451.9 357.3L458.1 363.5M451.9 363.5L458.1 357.3M455.2 360.4H464.2M459.7 355.9V364.9M456.6 357.3L462.8 363.5M456.6 363.5L462.8 357.3M459.8 360.5H468.8M464.3 356.0V365.0M461.2 357.4L467.4 363.6M461.2 363.6L467.4 357.4M464.4 361.7H473.4M468.9 357.2V366.2M465.8 358.6L472.0 364.8M465.8 364.8L472.0 358.6M469.0 362.9H478.0M473.5 358.4V367.4M470.4 359.8L476.6 366.0M470.4 366.0L476.6 359.8M473.6 362.4H482.6M478.1 357.9V366.9M475.0 359.3L481.2 365.5M475.0 365.5L481.2 359.3M478.2 362.2H487.2M482.7 357.7V366.7M479.6 359.1L485.8 365.3M479.6 365.3L485.8 359.1M482.9 361.8H491.9M487.4 357.3V366.3M484.2 358.7L490.5 364.9M484.2 364.9L490.5 358.7M487.5 363.0H496.5M492.0 358.5V367.5M488.9 359.9L495.1 366.1M488.9 366.1L495.1 359.9M492.1 360.8H501.1M496.6 356.3V365.3M493.5 357.7L499.7 363.9M493.5 363.9L499.7 357.7M496.7 362.8H505.7M501.2 358.3V367.3M498.1 359.7L504.3 365.9M498.1 365.9L504.3 359.7M501.3 361.1H510.3M505.8 356.6V365.6M502.7 358.0L508.9 364.2M502.7 364.2L508.9 358.0M505.9 364.3H514.9M510.4 359.8V368.8M507.3 361.2L513.5 367.4M507.3 367.4L513.5 361.2M510.5 362.4H519.5M515.0 357.9V366.9M511.9 359.3L518.1 365.5M511.9 365.5L518.1 359.3M515.2 362.6H524.2M519.7 358.1V367.1M516.6 359.5L522.8 365.7M516.6 365.7L522.8 359.5M519.8 364.7H528.8M524.3 360.2V369.2M521.2 361.6L527.4 367.8M521.2 367.8L527.4 361.6M524.4 363.2H533.4M528.9 358.7V367.7M525.8 360.1L532.0 366.3M525.8 366.3L532.0 360.1M529.0 363.0H538.0M533.5 358.5V367.5M530.4 359.9L536.6 366.1M530.4 366.1L536.6 359.9" fill="none" stroke="#3c2878" stroke-width="1.8"/>
<polyline points="76.6,226.9 81.2,216.8 85.8,205.3 90.5,188.8 95.1,168.3 99.7,145.8 104.3,123.4 108.9,104.7 113.5,73.8 118.2,47.1 122.8,244.5 127.4,249.1 132.0,264.2 136.6,269.1 141.2,272.0 145.8,280.3 150.5,281.9 155.1,286.8 159.7,282.2 164.3,277.5 168.9,282.0 173.5,285.0 178.1,315.5 182.8,329.0 187.4,333.3 192.0,341.4 196.6,343.1 201.2,339.7 205.8,345.9 210.4,344.2 215.1,345.4 219.7,343.1 224.3,341.7 228.9,344.6 233.5,346.9 238.1,348.2 242.8,349.5 247.4,349.6 252.0,352.0 256.6,351.0 261.2,351.2 265.8,355.6 270.4,352.9 275.1,353.1 279.7,353.6 284.3,356.7 288.9,357.3 293.5,359.2 298.1,358.2 302.8,360.5 307.4,361.3 312.0,358.8 316.6,361.6 321.2,361.8 325.8,360.7 330.4,360.2 335.1,358.8 339.7,361.2 344.3,361.9 348.9,359.6 353.5,358.2 358.1,360.8 362.7,359.0 367.4,357.5 372.0,357.4 376.6,357.4 381.2,357.7 385.8,358.4 390.4,358.5 395.1,356.7 399.7,358.9 404.3,355.8 408.9,359.6 413.5,353.9 418.1,358.9 422.7,356.1 427.4,359.8 432.0,358.9 436.6,359.0 441.2,359.4 445.8,355.6 450.4,358.0 455.0,359.5 459.7,356.9 464.3,354.7 468.9,355.8 473.5,352.0 478.1,351.2 482.7,349.1 487.4,348.3 492.0,348.3 496.6,347.8 501.2,345.0 505.8,345.2 510.4,346.2 515.0,343.7 519.7,342.4 524.3,340.9 528.9,336.2 533.5,338.3" fill="none" stroke="#1ef0c8" stroke-width="1.9" stroke-dasharray="11.2 5.9" stroke-linejoin="round"/>
<path d="M76.6 221.6L80.8 226.9L76.6 232.2L72.4 226.9ZM81.2 211.5L85.4 216.8L81.2 222.1L77.0 216.8ZM85.8 200.0L90.0 205.3L85.8 210.6L81.6 205.3ZM90.5 183.5L94.7 188.8L90.5 194.1L86.3 188.8ZM95.1 163.0L99.3 168.3L95.1 173.6L90.9 168.3ZM99.7 140.5L103.9 145.8L99.7 151.1L95.5 145.8ZM104.3 118.1L108.5 123.4L104.3 128.7L100.1 123.4ZM108.9 99.4L113.1 104.7L108.9 110.0L104.7 104.7ZM113.5 68.5L117.7 73.8L113.5 79.1L109.3 73.8ZM118.2 41.8L122.4 47.1L118.2 52.4L114.0 47.1ZM122.8 239.2L127.0 244.5L122.8 249.8L118.6 244.5ZM127.4 243.8L131.6 249.1L127.4 254.4L123.2 249.1ZM132.0 258.9L136.2 264.2L132.0 269.5L127.8 264.2ZM136.6 263.8L140.8 269.1L136.6 274.4L132.4 269.1ZM141.2 266.7L145.4 272.0L141.2 277.3L137.0 272.0ZM145.8 275.0L150.0 280.3L145.8 285.6L141.6 280.3ZM150.5 276.6L154.7 281.9L150.5 287.2L146.3 281.9ZM155.1 281.5L159.3 286.8L155.1 292.1L150.9 286.8ZM159.7 276.9L163.9 282.2L159.7 287.5L155.5 282.2ZM164.3 272.2L168.5 277.5L164.3 282.8L160.1 277.5ZM168.9 276.7L173.1 282.0L168.9 287.3L164.7 282.0ZM173.5 279.7L177.7 285.0L173.5 290.3L169.3 285.0ZM178.1 310.2L182.3 315.5L178.1 320.8L173.9 315.5ZM182.8 323.7L187.0 329.0L182.8 334.3L178.6 329.0ZM187.4 328.0L191.6 333.3L187.4 338.6L183.2 333.3ZM192.0 336.1L196.2 341.4L192.0 346.7L187.8 341.4ZM196.6 337.8L200.8 343.1L196.6 348.4L192.4 343.1ZM201.2 334.4L205.4 339.7L201.2 345.0L197.0 339.7ZM205.8 340.6L210.0 345.9L205.8 351.2L201.6 345.9ZM210.4 338.9L214.6 344.2L210.4 349.5L206.2 344.2ZM215.1 340.1L219.3 345.4L215.1 350.7L210.9 345.4ZM219.7 337.8L223.9 343.1L219.7 348.4L215.5 343.1ZM224.3 336.4L228.5 341.7L224.3 347.0L220.1 341.7ZM228.9 339.3L233.1 344.6L228.9 349.9L224.7 344.6ZM233.5 341.6L237.7 346.9L233.5 352.2L229.3 346.9ZM238.1 342.9L242.3 348.2L238.1 353.5L233.9 348.2ZM242.8 344.2L247.0 349.5L242.8 354.8L238.6 349.5ZM247.4 344.3L251.6 349.6L247.4 354.9L243.2 349.6ZM252.0 346.7L256.2 352.0L252.0 357.3L247.8 352.0ZM256.6 345.7L260.8 351.0L256.6 356.3L252.4 351.0ZM261.2 345.9L265.4 351.2L261.2 356.5L257.0 351.2ZM265.8 350.3L270.0 355.6L265.8 360.9L261.6 355.6ZM270.4 347.6L274.6 352.9L270.4 358.2L266.2 352.9ZM275.1 347.8L279.3 353.1L275.1 358.4L270.9 353.1ZM279.7 348.3L283.9 353.6L279.7 358.9L275.5 353.6ZM284.3 351.4L288.5 356.7L284.3 362.0L280.1 356.7ZM288.9 352.0L293.1 357.3L288.9 362.6L284.7 357.3ZM293.5 353.9L297.7 359.2L293.5 364.5L289.3 359.2ZM298.1 352.9L302.3 358.2L298.1 363.5L293.9 358.2ZM302.8 355.2L306.9 360.5L302.8 365.8L298.6 360.5ZM307.4 356.0L311.6 361.3L307.4 366.6L303.2 361.3ZM312.0 353.5L316.2 358.8L312.0 364.1L307.8 358.8ZM316.6 356.3L320.8 361.6L316.6 366.9L312.4 361.6ZM321.2 356.5L325.4 361.8L321.2 367.1L317.0 361.8ZM325.8 355.4L330.0 360.7L325.8 366.0L321.6 360.7ZM330.4 354.9L334.6 360.2L330.4 365.5L326.2 360.2ZM335.1 353.5L339.3 358.8L335.1 364.1L330.9 358.8ZM339.7 355.9L343.9 361.2L339.7 366.5L335.5 361.2ZM344.3 356.6L348.5 361.9L344.3 367.2L340.1 361.9ZM348.9 354.3L353.1 359.6L348.9 364.9L344.7 359.6ZM353.5 352.9L357.7 358.2L353.5 363.5L349.3 358.2ZM358.1 355.5L362.3 360.8L358.1 366.1L353.9 360.8ZM362.7 353.7L366.9 359.0L362.7 364.3L358.5 359.0ZM367.4 352.2L371.6 357.5L367.4 362.8L363.2 357.5ZM372.0 352.1L376.2 357.4L372.0 362.7L367.8 357.4ZM376.6 352.1L380.8 357.4L376.6 362.7L372.4 357.4ZM381.2 352.4L385.4 357.7L381.2 363.0L377.0 357.7ZM385.8 353.1L390.0 358.4L385.8 363.7L381.6 358.4ZM390.4 353.2L394.6 358.5L390.4 363.8L386.2 358.5ZM395.1 351.4L399.2 356.7L395.1 362.0L390.9 356.7ZM399.7 353.6L403.9 358.9L399.7 364.2L395.5 358.9ZM404.3 350.5L408.5 355.8L404.3 361.1L400.1 355.8ZM408.9 354.3L413.1 359.6L408.9 364.9L404.7 359.6ZM413.5 348.6L417.7 353.9L413.5 359.2L409.3 353.9ZM418.1 353.6L422.3 358.9L418.1 364.2L413.9 358.9ZM422.7 350.8L426.9 356.1L422.7 361.4L418.5 356.1ZM427.4 354.5L431.6 359.8L427.4 365.1L423.2 359.8ZM432.0 353.6L436.2 358.9L432.0 364.2L427.8 358.9ZM436.6 353.7L440.8 359.0L436.6 364.3L432.4 359.0ZM441.2 354.1L445.4 359.4L441.2 364.7L437.0 359.4ZM445.8 350.3L450.0 355.6L445.8 360.9L441.6 355.6ZM450.4 352.7L454.6 358.0L450.4 363.3L446.2 358.0ZM455.0 354.2L459.2 359.5L455.0 364.8L450.8 359.5ZM459.7 351.6L463.9 356.9L459.7 362.2L455.5 356.9ZM464.3 349.4L468.5 354.7L464.3 360.0L460.1 354.7ZM468.9 350.5L473.1 355.8L468.9 361.1L464.7 355.8ZM473.5 346.7L477.7 352.0L473.5 357.3L469.3 352.0ZM478.1 345.9L482.3 351.2L478.1 356.5L473.9 351.2ZM482.7 343.8L486.9 349.1L482.7 354.4L478.5 349.1ZM487.4 343.0L491.6 348.3L487.4 353.6L483.2 348.3ZM492.0 343.0L496.2 348.3L492.0 353.6L487.8 348.3ZM496.6 342.5L500.8 347.8L496.6 353.1L492.4 347.8ZM501.2 339.7L505.4 345.0L501.2 350.3L497.0 345.0ZM505.8 339.9L510.0 345.2L505.8 350.5L501.6 345.2ZM510.4 340.9L514.6 346.2L510.4 351.5L506.2 346.2ZM515.0 338.4L519.2 343.7L515.0 349.0L510.8 343.7ZM519.7 337.1L523.9 342.4L519.7 347.7L515.5 342.4ZM524.3 335.6L528.5 340.9L524.3 346.2L520.1 340.9ZM528.9 330.9L533.1 336.2L528.9 341.5L524.7 336.2ZM533.5 333.0L537.7 338.3L533.5 343.6L529.3 338.3Z" fill="none" stroke="#1ef0c8" stroke-width="1.9"/>
<polyline points="76.6,228.5 81.2,219.1 85.8,207.9 90.5,191.4 95.1,170.2 99.7,148.6 104.3,127.1 108.9,105.2 113.5,81.4 118.2,56.4 122.8,344.5 127.4,346.1 132.0,348.2 136.6,350.4 141.2,352.0 145.8,353.0 150.5,354.2 155.1,355.5 159.7,356.0 164.3,356.7 168.9,357.8 173.5,358.9 178.1,360.1 182.8,361.2 187.4,362.6 192.0,364.1 196.6,364.4 201.2,364.3 205.8,365.5 210.4,365.3 215.1,365.6 219.7,365.5 224.3,365.7 228.9,365.1 233.5,365.2 238.1,365.7 242.8,366.0 247.4,364.7 252.0,365.5 256.6,366.0 261.2,365.9 265.8,365.9 270.4,365.5 275.1,366.1 279.7,366.4 284.3,365.2 288.9,367.2 293.5,366.8 298.1,366.3 302.8,366.3 307.4,366.1 312.0,366.1 316.6,365.5 321.2,367.0 325.8,364.4 330.4,365.8 335.1,366.6 339.7,366.5 344.3,366.5 348.9,366.6 353.5,366.0 358.1,366.9 362.7,366.6 367.4,366.9 372.0,366.6 376.6,366.2 381.2,367.0 385.8,365.3 390.4,367.0 395.1,366.5 399.7,366.3 404.3,365.9 408.9,366.1 413.5,366.2 418.1,365.9 422.7,366.0 427.4,366.8 432.0,365.9 436.6,366.6 441.2,366.4 445.8,366.3 450.4,366.5 455.0,366.0 459.7,366.0 464.3,366.5 468.9,365.9 473.5,366.2 478.1,367.1 482.7,365.2 487.4,366.1 492.0,366.1 496.6,365.5 501.2,366.8 505.8,366.4 510.4,365.4 515.0,367.1 519.7,366.4 524.3,364.9 528.9,365.5 533.5,366.0" fill="none" stroke="#1ef0c8" stroke-width="1.9" stroke-linejoin="round"/>
<path d="M72.1 228.5H81.1M76.6 224.0V233.0M73.5 225.4L79.7 231.6M73.5 231.6L79.7 225.4M76.7 219.1H85.7M81.2 214.6V223.6M78.1 216.0L84.3 222.2M78.1 222.2L84.3 216.0M81.3 207.9H90.3M85.8 203.4V212.4M82.7 204.8L88.9 211.0M82.7 211.0L88.9 204.8M86.0 191.4H95.0M90.5 186.9V195.9M87.4 188.3L93.6 194.5M87.4 194.5L93.6 188.3M90.6 170.2H99.6M95.1 165.7V174.7M92.0 167.1L98.2 173.3M92.0 173.3L98.2 167.1M95.2 148.6H104.2M99.7 144.1V153.1M96.6 145.5L102.8 151.7M96.6 151.7L102.8 145.5M99.8 127.1H108.8M104.3 122.6V131.6M101.2 124.0L107.4 130.2M101.2 130.2L107.4 124.0M104.4 105.2H113.4M108.9 100.7V109.7M105.8 102.1L112.0 108.3M105.8 108.3L112.0 102.1M109.0 81.4H118.0M113.5 76.9V85.9M110.4 78.3L116.6 84.5M110.4 84.5L116.6 78.3M113.7 56.4H122.7M118.2 51.9V60.9M115.1 53.3L121.2 59.5M115.1 59.5L121.2 53.3M118.3 344.5H127.3M122.8 340.0V349.0M119.7 341.4L125.9 347.6M119.7 347.6L125.9 341.4M122.9 346.1H131.9M127.4 341.6V350.6M124.3 343.0L130.5 349.2M124.3 349.2L130.5 343.0M127.5 348.2H136.5M132.0 343.7V352.7M128.9 345.1L135.1 351.3M128.9 351.3L135.1 345.1M132.1 350.4H141.1M136.6 345.9V354.9M133.5 347.3L139.7 353.5M133.5 353.5L139.7 347.3M136.7 352.0H145.7M141.2 347.5V356.5M138.1 348.9L144.3 355.1M138.1 355.1L144.3 348.9M141.3 353.0H150.3M145.8 348.5V357.5M142.7 349.9L148.9 356.1M142.7 356.1L148.9 349.9M146.0 354.2H155.0M150.5 349.7V358.7M147.4 351.1L153.6 357.3M147.4 357.3L153.6 351.1M150.6 355.5H159.6M155.1 351.0V360.0M152.0 352.4L158.2 358.6M152.0 358.6L158.2 352.4M155.2 356.0H164.2M159.7 351.5V360.5M156.6 352.9L162.8 359.1M156.6 359.1L162.8 352.9M159.8 356.7H168.8M164.3 352.2V361.2M161.2 353.6L167.4 359.8M161.2 359.8L167.4 353.6M164.4 357.8H173.4M168.9 353.3V362.3M165.8 354.7L172.0 360.9M165.8 360.9L172.0 354.7M169.0 358.9H178.0M173.5 354.4V363.4M170.4 355.8L176.6 362.0M170.4 362.0L176.6 355.8M173.6 360.1H182.6M178.1 355.6V364.6M175.0 357.0L181.2 363.2M175.0 363.2L181.2 357.0M178.3 361.2H187.3M182.8 356.7V365.7M179.7 358.1L185.9 364.3M179.7 364.3L185.9 358.1M182.9 362.6H191.9M187.4 358.1V367.1M184.3 359.5L190.5 365.7M184.3 365.7L190.5 359.5M187.5 364.1H196.5M192.0 359.6V368.6M188.9 361.0L195.1 367.2M188.9 367.2L195.1 361.0M192.1 364.4H201.1M196.6 359.9V368.9M193.5 361.3L199.7 367.5M193.5 367.5L199.7 361.3M196.7 364.3H205.7M201.2 359.8V368.8M198.1 361.2L204.3 367.4M198.1 367.4L204.3 361.2M201.3 365.5H210.3M205.8 361.0V370.0M202.7 362.4L208.9 368.6M202.7 368.6L208.9 362.4M205.9 365.3H214.9M210.4 360.8V369.8M207.3 362.2L213.5 368.4M207.3 368.4L213.5 362.2M210.6 365.6H219.6M215.1 361.1V370.1M212.0 362.5L218.2 368.7M212.0 368.7L218.2 362.5M215.2 365.5H224.2M219.7 361.0V370.0M216.6 362.4L222.8 368.6M216.6 368.6L222.8 362.4M219.8 365.7H228.8M224.3 361.2V370.2M221.2 362.6L227.4 368.8M221.2 368.8L227.4 362.6M224.4 365.1H233.4M228.9 360.6V369.6M225.8 362.0L232.0 368.2M225.8 368.2L232.0 362.0M229.0 365.2H238.0M233.5 360.7V369.7M230.4 362.1L236.6 368.3M230.4 368.3L236.6 362.1M233.6 365.7H242.6M238.1 361.2V370.2M235.0 362.6L241.2 368.8M235.0 368.8L241.2 362.6M238.3 366.0H247.3M242.8 361.5V370.5M239.7 362.9L245.9 369.1M239.7 369.1L245.9 362.9M242.9 364.7H251.9M247.4 360.2V369.2M244.3 361.6L250.5 367.8M244.3 367.8L250.5 361.6M247.5 365.5H256.5M252.0 361.0V370.0M248.9 362.4L255.1 368.6M248.9 368.6L255.1 362.4M252.1 366.0H261.1M256.6 361.5V370.5M253.5 362.9L259.7 369.1M253.5 369.1L259.7 362.9M256.7 365.9H265.7M261.2 361.4V370.4M258.1 362.8L264.3 369.0M258.1 369.0L264.3 362.8M261.3 365.9H270.3M265.8 361.4V370.4M262.7 362.8L268.9 369.0M262.7 369.0L268.9 362.8M265.9 365.5H274.9M270.4 361.0V370.0M267.3 362.4L273.5 368.6M267.3 368.6L273.5 362.4M270.6 366.1H279.6M275.1 361.6V370.6M272.0 363.0L278.2 369.2M272.0 369.2L278.2 363.0M275.2 366.4H284.2M279.7 361.9V370.9M276.6 363.3L282.8 369.5M276.6 369.5L282.8 363.3M279.8 365.2H288.8M284.3 360.7V369.7M281.2 362.1L287.4 368.3M281.2 368.3L287.4 362.1M284.4 367.2H293.4M288.9 362.7V371.7M285.8 364.1L292.0 370.3M285.8 370.3L292.0 364.1M289.0 366.8H298.0M293.5 362.3V371.3M290.4 363.7L296.6 369.9M290.4 369.9L296.6 363.7M293.6 366.3H302.6M298.1 361.8V370.8M295.0 363.2L301.2 369.4M295.0 369.4L301.2 363.2M298.2 366.3H307.2M302.8 361.8V370.8M299.6 363.2L305.9 369.4M299.6 369.4L305.9 363.2M302.9 366.1H311.9M307.4 361.6V370.6M304.3 363.0L310.5 369.2M304.3 369.2L310.5 363.0M307.5 366.1H316.5M312.0 361.6V370.6M308.9 363.0L315.1 369.2M308.9 369.2L315.1 363.0M312.1 365.5H321.1M316.6 361.0V370.0M313.5 362.4L319.7 368.6M313.5 368.6L319.7 362.4M316.7 367.0H325.7M321.2 362.5V371.5M318.1 363.9L324.3 370.1M318.1 370.1L324.3 363.9M321.3 364.4H330.3M325.8 359.9V368.9M322.7 361.3L328.9 367.5M322.7 367.5L328.9 361.3M325.9 365.8H334.9M330.4 361.3V370.3M327.3 362.7L333.5 368.9M327.3 368.9L333.5 362.7M330.6 366.6H339.6M335.1 362.1V371.1M332.0 363.5L338.2 369.7M332.0 369.7L338.2 363.5M335.2 366.5H344.2M339.7 362.0V371.0M336.6 363.4L342.8 369.6M336.6 369.6L342.8 363.4M339.8 366.5H348.8M344.3 362.0V371.0M341.2 363.4L347.4 369.6M341.2 369.6L347.4 363.4M344.4 366.6H353.4M348.9 362.1V371.1M345.8 363.5L352.0 369.7M345.8 369.7L352.0 363.5M349.0 366.0H358.0M353.5 361.5V370.5M350.4 362.9L356.6 369.1M350.4 369.1L356.6 362.9M353.6 366.9H362.6M358.1 362.4V371.4M355.0 363.8L361.2 370.0M355.0 370.0L361.2 363.8M358.2 366.6H367.2M362.7 362.1V371.1M359.6 363.5L365.8 369.7M359.6 369.7L365.8 363.5M362.9 366.9H371.9M367.4 362.4V371.4M364.3 363.8L370.5 370.0M364.3 370.0L370.5 363.8M367.5 366.6H376.5M372.0 362.1V371.1M368.9 363.5L375.1 369.7M368.9 369.7L375.1 363.5M372.1 366.2H381.1M376.6 361.7V370.7M373.5 363.1L379.7 369.3M373.5 369.3L379.7 363.1M376.7 367.0H385.7M381.2 362.5V371.5M378.1 363.9L384.3 370.1M378.1 370.1L384.3 363.9M381.3 365.3H390.3M385.8 360.8V369.8M382.7 362.2L388.9 368.4M382.7 368.4L388.9 362.2M385.9 367.0H394.9M390.4 362.5V371.5M387.3 363.9L393.5 370.1M387.3 370.1L393.5 363.9M390.6 366.5H399.6M395.1 362.0V371.0M391.9 363.4L398.2 369.6M391.9 369.6L398.2 363.4M395.2 366.3H404.2M399.7 361.8V370.8M396.6 363.2L402.8 369.4M396.6 369.4L402.8 363.2M399.8 365.9H408.8M404.3 361.4V370.4M401.2 362.8L407.4 369.0M401.2 369.0L407.4 362.8M404.4 366.1H413.4M408.9 361.6V370.6M405.8 363.0L412.0 369.2M405.8 369.2L412.0 363.0M409.0 366.2H418.0M413.5 361.7V370.7M410.4 363.1L416.6 369.3M410.4 369.3L416.6 363.1M413.6 365.9H422.6M418.1 361.4V370.4M415.0 362.8L421.2 369.0M415.0 369.0L421.2 362.8M418.2 366.0H427.2M422.7 361.5V370.5M419.6 362.9L425.8 369.1M419.6 369.1L425.8 362.9M422.9 366.8H431.9M427.4 362.3V371.3M424.3 363.7L430.5 369.9M424.3 369.9L430.5 363.7M427.5 365.9H436.5M432.0 361.4V370.4M428.9 362.8L435.1 369.0M428.9 369.0L435.1 362.8M432.1 366.6H441.1M436.6 362.1V371.1M433.5 363.5L439.7 369.7M433.5 369.7L439.7 363.5M436.7 366.4H445.7M441.2 361.9V370.9M438.1 363.3L444.3 369.5M438.1 369.5L444.3 363.3M441.3 366.3H450.3M445.8 361.8V370.8M442.7 363.2L448.9 369.4M442.7 369.4L448.9 363.2M445.9 366.5H454.9M450.4 362.0V371.0M447.3 363.4L453.5 369.6M447.3 369.6L453.5 363.4M450.5 366.0H459.5M455.0 361.5V370.5M451.9 362.9L458.1 369.1M451.9 369.1L458.1 362.9M455.2 366.0H464.2M459.7 361.5V370.5M456.6 362.9L462.8 369.1M456.6 369.1L462.8 362.9M459.8 366.5H468.8M464.3 362.0V371.0M461.2 363.4L467.4 369.6M461.2 369.6L467.4 363.4M464.4 365.9H473.4M468.9 361.4V370.4M465.8 362.8L472.0 369.0M465.8 369.0L472.0 362.8M469.0 366.2H478.0M473.5 361.7V370.7M470.4 363.1L476.6 369.3M470.4 369.3L476.6 363.1M473.6 367.1H482.6M478.1 362.6V371.6M475.0 364.0L481.2 370.2M475.0 370.2L481.2 364.0M478.2 365.2H487.2M482.7 360.7V369.7M479.6 362.1L485.8 368.3M479.6 368.3L485.8 362.1M482.9 366.1H491.9M487.4 361.6V370.6M484.2 363.0L490.5 369.2M484.2 369.2L490.5 363.0M487.5 366.1H496.5M492.0 361.6V370.6M488.9 363.0L495.1 369.2M488.9 369.2L495.1 363.0M492.1 365.5H501.1M496.6 361.0V370.0M493.5 362.4L499.7 368.6M493.5 368.6L499.7 362.4M496.7 366.8H505.7M501.2 362.3V371.3M498.1 363.7L504.3 369.9M498.1 369.9L504.3 363.7M501.3 366.4H510.3M505.8 361.9V370.9M502.7 363.3L508.9 369.5M502.7 369.5L508.9 363.3M505.9 365.4H514.9M510.4 360.9V369.9M507.3 362.3L513.5 368.5M507.3 368.5L513.5 362.3M510.5 367.1H519.5M515.0 362.6V371.6M511.9 364.0L518.1 370.2M511.9 370.2L518.1 364.0M515.2 366.4H524.2M519.7 361.9V370.9M516.6 363.3L522.8 369.5M516.6 369.5L522.8 363.3M519.8 364.9H528.8M524.3 360.4V369.4M521.2 361.8L527.4 368.0M521.2 368.0L527.4 361.8M524.4 365.5H533.4M528.9 361.0V370.0M525.8 362.4L532.0 368.6M525.8 368.6L532.0 362.4M529.0 366.0H538.0M533.5 361.5V370.5M530.4 362.9L536.6 369.1M530.4 369.1L536.6 362.9" fill="none" stroke="#1ef0c8" stroke-width="1.8"/>
<g font-family="Liberation Sans, Arial, sans-serif" font-size="14" fill="#262626" stroke="#262626" stroke-width="0.3"><text x="72.0" y="389.5" text-anchor="middle">0</text><text x="118.2" y="389.5" text-anchor="middle">10</text><text x="164.3" y="389.5" text-anchor="middle">20</text><text x="210.4" y="389.5" text-anchor="middle">30</text><text x="256.6" y="389.5" text-anchor="middle">40</text><text x="302.8" y="389.5" text-anchor="middle">50</text><text x="348.9" y="389.5" text-anchor="middle">60</text><text x="395.1" y="389.5" text-anchor="middle">70</text><text x="441.2" y="389.5" text-anchor="middle">80</text><text x="487.4" y="389.5" text-anchor="middle">90</text><text x="533.5" y="389.5" text-anchor="middle">100</text><text x="66.2" y="374.6" text-anchor="end">0</text><text x="66.2" y="335.1" text-anchor="end">200</text><text x="66.2" y="295.6" text-anchor="end">400</text><text x="66.2" y="256.1" text-anchor="end">600</text><text x="66.2" y="216.6" text-anchor="end">800</text><text x="66.2" y="177.1" text-anchor="end">1000</text><text x="66.2" y="137.6" text-anchor="end">1200</text><text x="66.2" y="98.1" text-anchor="end">1400</text><text x="66.2" y="58.6" text-anchor="end">1600</text><text x="66.2" y="19.1" text-anchor="end">1800</text></g>
<text x="302.3" y="415.2" text-anchor="middle" font-family="Liberation Serif, serif" font-size="20" fill="#111" stroke="#111" stroke-width="0.3" textLength="65.5" lengthAdjust="spacingAndGlyphs">Time(s)</text>
<text transform="translate(20.2 192.3) rotate(-90)" text-anchor="middle" font-family="Liberation Serif, serif" font-size="20" fill="#111" stroke="#111" stroke-width="0.3" textLength="84" lengthAdjust="spacingAndGlyphs">RMSE(m)</text>
<rect x="298.5" y="25.0" width="223.0" height="193.5" fill="#fff" stroke="#262626" stroke-width="1.2"/>
<path d="M302.4 38.8H345" stroke="#f05a3c" stroke-width="1.6" stroke-dasharray="11.2 5.9" fill="none"/>
<path d="M323.8 33.5L328.0 38.8L323.8 44.1L319.6 38.8Z" fill="none" stroke="#f05a3c" stroke-width="1.6"/>
<text x="349.2" y="43.3" font-family="Liberation Serif, serif" font-size="16" fill="#000" stroke="#000" stroke-width="0.22" textLength="159.4" lengthAdjust="spacingAndGlyphs">Target1-position-RMSE</text>
<path d="M302.4 62.5H345" stroke="#f05a3c" stroke-width="1.6" fill="none"/>
<path d="M319.3 62.5H328.3M323.8 58.0V67.0M320.7 59.4L326.9 65.6M320.7 65.6L326.9 59.4" fill="none" stroke="#f05a3c" stroke-width="1.5"/>
<text x="349.2" y="67.0" font-family="Liberation Serif, serif" font-size="16" fill="#000" stroke="#000" stroke-width="0.22" textLength="167.0" lengthAdjust="spacingAndGlyphs">Target1-position-PCRLB</text>
<path d="M302.4 86.3H345" stroke="#1e96f0" stroke-width="1.6" stroke-dasharray="11.2 5.9" fill="none"/>
<path d="M323.8 81.0L328.0 86.3L323.8 91.6L319.6 86.3Z" fill="none" stroke="#1e96f0" stroke-width="1.6"/>
<text x="349.2" y="90.8" font-family="Liberation Serif, serif" font-size="16" fill="#000" stroke="#000" stroke-width="0.22" textLength="159.4" lengthAdjust="spacingAndGlyphs">Target2-position-RMSE</text>
<path d="M302.4 110.0H345" stroke="#1e96f0" stroke-width="1.6" fill="none"/>
<path d="M319.3 110.0H328.3M323.8 105.5V114.5M320.7 106.9L326.9 113.1M320.7 113.1L326.9 106.9" fill="none" stroke="#1e96f0" stroke-width="1.5"/>
<text x="349.2" y="114.5" font-family="Liberation Serif, serif" font-size="16" fill="#000" stroke="#000" stroke-width="0.22" textLength="167.0" lengthAdjust="spacingAndGlyphs">Target2-position-PCRLB</text>
<path d="M302.4 133.8H345" stroke="#3c2878" stroke-width="1.6" stroke-dasharray="11.2 5.9" fill="none"/>
<path d="M323.8 128.5L328.0 133.8L323.8 139.1L319.6 133.8Z" fill="none" stroke="#3c2878" stroke-width="1.6"/>
<text x="349.2" y="138.3" font-family="Liberation Serif, serif" font-size="16" fill="#000" stroke="#000" stroke-width="0.22" textLength="159.4" lengthAdjust="spacingAndGlyphs">Target3-position-RMSE</text>
<path d="M302.4 157.5H345" stroke="#3c2878" stroke-width="1.6" fill="none"/>
<path d="M319.3 157.5H328.3M323.8 153.0V162.0M320.7 154.4L326.9 160.6M320.7 160.6L326.9 154.4" fill="none" stroke="#3c2878" stroke-width="1.5"/>
<text x="349.2" y="162.0" font-family="Liberation Serif, serif" font-size="16" fill="#000" stroke="#000" stroke-width="0.22" textLength="167.0" lengthAdjust="spacingAndGlyphs">Target3-position-PCRLB</text>
<path d="M302.4 181.2H345" stroke="#1ef0c8" stroke-width="1.6" stroke-dasharray="11.2 5.9" fill="none"/>
<path d="M323.8 175.9L328.0 181.2L323.8 186.5L319.6 181.2Z" fill="none" stroke="#1ef0c8" stroke-width="1.6"/>
<text x="349.2" y="185.7" font-family="Liberation Serif, serif" font-size="16" fill="#000" stroke="#000" stroke-width="0.22" textLength="159.4" lengthAdjust="spacingAndGlyphs">Target4-position-RMSE</text>
<path d="M302.4 205.0H345" stroke="#1ef0c8" stroke-width="1.6" fill="none"/>
<path d="M319.3 205.0H328.3M323.8 200.5V209.5M320.7 201.9L326.9 208.1M320.7 208.1L326.9 201.9" fill="none" stroke="#1ef0c8" stroke-width="1.5"/>
<text x="349.2" y="209.5" font-family="Liberation Serif, serif" font-size="16" fill="#000" stroke="#000" stroke-width="0.22" textLength="167.0" lengthAdjust="spacingAndGlyphs">Target4-position-PCRLB</text>
</svg></body></html>
